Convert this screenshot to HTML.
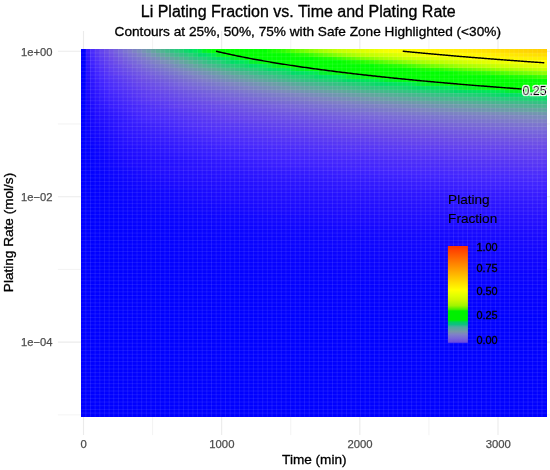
<!DOCTYPE html>
<html><head><meta charset="utf-8"><title>Li Plating Fraction</title><style>
html,body{margin:0;padding:0;background:#fff;}
svg{display:block;}
text{font-family:"Liberation Sans",Arial,Helvetica,sans-serif;}
.b{stroke:#000;stroke-width:0.32px;}
.g{stroke:#4d4d4d;stroke-width:0.25px;}
.c{stroke:#000;stroke-width:0.12px;}
</style></head><body>
<svg width="550" height="470" viewBox="0 0 550 470">
<rect width="550" height="470" fill="#fff"/>
<path d="M57.90 51.20H569.90M57.90 196.68H569.90M57.90 342.16H569.90M83.50 30.99V435.11M221.67 30.99V435.11M359.84 30.99V435.11M498.01 30.99V435.11" stroke="#ebebeb" stroke-width="1.1" fill="none"/>
<path d="M57.90 123.94H569.90M57.90 269.42H569.90M57.90 414.90H569.90M152.58 30.99V435.11M290.75 30.99V435.11M428.92 30.99V435.11M567.10 30.99V435.11" stroke="#ebebeb" stroke-width="0.6" fill="none"/>
<defs>
<linearGradient id="r0"><stop offset="0.0000" stop-color="#0000ff"/><stop offset="0.0100" stop-color="#0000ff"/><stop offset="0.0100" stop-color="#371bff"/><stop offset="0.0200" stop-color="#371bff"/><stop offset="0.0200" stop-color="#4b2cfb"/><stop offset="0.0300" stop-color="#4b2cfb"/><stop offset="0.0300" stop-color="#5939f3"/><stop offset="0.0400" stop-color="#5939f3"/><stop offset="0.0400" stop-color="#6343ed"/><stop offset="0.0500" stop-color="#6343ed"/><stop offset="0.0500" stop-color="#6b4de7"/><stop offset="0.0600" stop-color="#6b4de7"/><stop offset="0.0600" stop-color="#7156e2"/><stop offset="0.0700" stop-color="#7156e2"/><stop offset="0.0700" stop-color="#7560dc"/><stop offset="0.0800" stop-color="#7560dc"/><stop offset="0.0800" stop-color="#776ad7"/><stop offset="0.0900" stop-color="#776ad7"/><stop offset="0.0900" stop-color="#7b73d1"/><stop offset="0.1000" stop-color="#7b73d1"/><stop offset="0.1000" stop-color="#7e7aca"/><stop offset="0.1100" stop-color="#7e7aca"/><stop offset="0.1100" stop-color="#7c82c3"/><stop offset="0.1200" stop-color="#7c82c3"/><stop offset="0.1200" stop-color="#7a8bbb"/><stop offset="0.1300" stop-color="#7a8bbb"/><stop offset="0.1300" stop-color="#7693b3"/><stop offset="0.1400" stop-color="#7693b3"/><stop offset="0.1400" stop-color="#6e9aab"/><stop offset="0.1500" stop-color="#6e9aab"/><stop offset="0.1500" stop-color="#65a3a1"/><stop offset="0.1600" stop-color="#65a3a1"/><stop offset="0.1600" stop-color="#5bab98"/><stop offset="0.1700" stop-color="#5bab98"/><stop offset="0.1700" stop-color="#4eb391"/><stop offset="0.1800" stop-color="#4eb391"/><stop offset="0.1800" stop-color="#41ba8a"/><stop offset="0.1900" stop-color="#41ba8a"/><stop offset="0.1900" stop-color="#31c183"/><stop offset="0.2000" stop-color="#31c183"/><stop offset="0.2000" stop-color="#29c97c"/><stop offset="0.2100" stop-color="#29c97c"/><stop offset="0.2100" stop-color="#1fd072"/><stop offset="0.2200" stop-color="#1fd072"/><stop offset="0.2200" stop-color="#0dd76a"/><stop offset="0.2300" stop-color="#0dd76a"/><stop offset="0.2300" stop-color="#00dd64"/><stop offset="0.2400" stop-color="#00dd64"/><stop offset="0.2400" stop-color="#00e55d"/><stop offset="0.2500" stop-color="#00e55d"/><stop offset="0.2500" stop-color="#00eb48"/><stop offset="0.2600" stop-color="#00eb48"/><stop offset="0.2600" stop-color="#00f227"/><stop offset="0.2700" stop-color="#00f227"/><stop offset="0.2700" stop-color="#00f917"/><stop offset="0.2800" stop-color="#00f917"/><stop offset="0.2800" stop-color="#00ff07"/><stop offset="0.2900" stop-color="#00ff07"/><stop offset="0.2900" stop-color="#00ff00"/><stop offset="0.2950" stop-color="#00ff00"/><stop offset="0.3950" stop-color="#02ff00"/><stop offset="0.4000" stop-color="#02ff00"/><stop offset="0.4000" stop-color="#0fff00"/><stop offset="0.4100" stop-color="#0fff00"/><stop offset="0.4100" stop-color="#1aff00"/><stop offset="0.4200" stop-color="#1aff00"/><stop offset="0.4200" stop-color="#21ff00"/><stop offset="0.4300" stop-color="#21ff00"/><stop offset="0.4300" stop-color="#2eff00"/><stop offset="0.4400" stop-color="#2eff00"/><stop offset="0.4400" stop-color="#40ff00"/><stop offset="0.4500" stop-color="#40ff00"/><stop offset="0.4500" stop-color="#51ff00"/><stop offset="0.4600" stop-color="#51ff00"/><stop offset="0.4600" stop-color="#61ff00"/><stop offset="0.4700" stop-color="#61ff00"/><stop offset="0.4700" stop-color="#6fff00"/><stop offset="0.4800" stop-color="#6fff00"/><stop offset="0.4800" stop-color="#7eff00"/><stop offset="0.4900" stop-color="#7eff00"/><stop offset="0.4900" stop-color="#8bff00"/><stop offset="0.5000" stop-color="#8bff00"/><stop offset="0.5000" stop-color="#97ff00"/><stop offset="0.5100" stop-color="#97ff00"/><stop offset="0.5100" stop-color="#a4ff00"/><stop offset="0.5200" stop-color="#a4ff00"/><stop offset="0.5200" stop-color="#adff00"/><stop offset="0.5300" stop-color="#adff00"/><stop offset="0.5300" stop-color="#b6ff00"/><stop offset="0.5400" stop-color="#b6ff00"/><stop offset="0.5400" stop-color="#bfff00"/><stop offset="0.5500" stop-color="#bfff00"/><stop offset="0.5500" stop-color="#c6ff00"/><stop offset="0.5550" stop-color="#c6ff00"/><stop offset="0.6550" stop-color="#f4ff00"/><stop offset="0.7150" stop-color="#fffb00"/><stop offset="0.9950" stop-color="#ffce00"/><stop offset="1.0000" stop-color="#ffce00"/></linearGradient>
<linearGradient id="r1"><stop offset="0.0000" stop-color="#0000ff"/><stop offset="0.0100" stop-color="#0000ff"/><stop offset="0.0100" stop-color="#3219ff"/><stop offset="0.0200" stop-color="#3219ff"/><stop offset="0.0200" stop-color="#4729fd"/><stop offset="0.0300" stop-color="#4729fd"/><stop offset="0.0300" stop-color="#5535f5"/><stop offset="0.0400" stop-color="#5535f5"/><stop offset="0.0400" stop-color="#5f3ff0"/><stop offset="0.0500" stop-color="#5f3ff0"/><stop offset="0.0500" stop-color="#6747eb"/><stop offset="0.0600" stop-color="#6747eb"/><stop offset="0.0600" stop-color="#6e50e5"/><stop offset="0.0700" stop-color="#6e50e5"/><stop offset="0.0700" stop-color="#7159e0"/><stop offset="0.0800" stop-color="#7159e0"/><stop offset="0.0800" stop-color="#7562dc"/><stop offset="0.0900" stop-color="#7562dc"/><stop offset="0.0900" stop-color="#786ad7"/><stop offset="0.1000" stop-color="#786ad7"/><stop offset="0.1000" stop-color="#7b72d2"/><stop offset="0.1050" stop-color="#7b72d2"/><stop offset="0.1150" stop-color="#7d78cc"/><stop offset="0.1200" stop-color="#7d78cc"/><stop offset="0.1200" stop-color="#7d80c5"/><stop offset="0.1300" stop-color="#7d80c5"/><stop offset="0.1300" stop-color="#7a87bf"/><stop offset="0.1400" stop-color="#7a87bf"/><stop offset="0.1400" stop-color="#788fb8"/><stop offset="0.1500" stop-color="#788fb8"/><stop offset="0.1500" stop-color="#7396b1"/><stop offset="0.1600" stop-color="#7396b1"/><stop offset="0.1600" stop-color="#6b9ca9"/><stop offset="0.1700" stop-color="#6b9ca9"/><stop offset="0.1700" stop-color="#64a4a0"/><stop offset="0.1800" stop-color="#64a4a0"/><stop offset="0.1800" stop-color="#5aac97"/><stop offset="0.1900" stop-color="#5aac97"/><stop offset="0.1900" stop-color="#4eb292"/><stop offset="0.2000" stop-color="#4eb292"/><stop offset="0.2000" stop-color="#42b98b"/><stop offset="0.2100" stop-color="#42b98b"/><stop offset="0.2100" stop-color="#36bf85"/><stop offset="0.2200" stop-color="#36bf85"/><stop offset="0.2200" stop-color="#2dc57e"/><stop offset="0.2300" stop-color="#2dc57e"/><stop offset="0.2300" stop-color="#26cd77"/><stop offset="0.2400" stop-color="#26cd77"/><stop offset="0.2400" stop-color="#18d36f"/><stop offset="0.2500" stop-color="#18d36f"/><stop offset="0.2500" stop-color="#03d968"/><stop offset="0.2550" stop-color="#03d968"/><stop offset="0.2650" stop-color="#00de64"/><stop offset="0.2700" stop-color="#00de64"/><stop offset="0.2700" stop-color="#00e55c"/><stop offset="0.2800" stop-color="#00e55c"/><stop offset="0.2800" stop-color="#00ea4c"/><stop offset="0.2900" stop-color="#00ea4c"/><stop offset="0.2900" stop-color="#00f02a"/><stop offset="0.3000" stop-color="#00f02a"/><stop offset="0.3000" stop-color="#00f61c"/><stop offset="0.3100" stop-color="#00f61c"/><stop offset="0.3100" stop-color="#00fd0e"/><stop offset="0.3200" stop-color="#00fd0e"/><stop offset="0.3200" stop-color="#00ff00"/><stop offset="0.3250" stop-color="#00ff00"/><stop offset="0.4350" stop-color="#03ff00"/><stop offset="0.4450" stop-color="#05ff00"/><stop offset="0.4500" stop-color="#05ff00"/><stop offset="0.4500" stop-color="#0fff00"/><stop offset="0.4600" stop-color="#0fff00"/><stop offset="0.4600" stop-color="#1aff00"/><stop offset="0.4700" stop-color="#1aff00"/><stop offset="0.4700" stop-color="#21ff00"/><stop offset="0.4800" stop-color="#21ff00"/><stop offset="0.4800" stop-color="#29ff00"/><stop offset="0.4900" stop-color="#29ff00"/><stop offset="0.4900" stop-color="#39ff00"/><stop offset="0.5000" stop-color="#39ff00"/><stop offset="0.5000" stop-color="#48ff00"/><stop offset="0.5100" stop-color="#48ff00"/><stop offset="0.5100" stop-color="#57ff00"/><stop offset="0.5200" stop-color="#57ff00"/><stop offset="0.5200" stop-color="#65ff00"/><stop offset="0.5300" stop-color="#65ff00"/><stop offset="0.5300" stop-color="#72ff00"/><stop offset="0.5400" stop-color="#72ff00"/><stop offset="0.5400" stop-color="#7eff00"/><stop offset="0.5500" stop-color="#7eff00"/><stop offset="0.5500" stop-color="#8bff00"/><stop offset="0.5600" stop-color="#8bff00"/><stop offset="0.5600" stop-color="#96ff00"/><stop offset="0.5700" stop-color="#96ff00"/><stop offset="0.5700" stop-color="#a1ff00"/><stop offset="0.5800" stop-color="#a1ff00"/><stop offset="0.5800" stop-color="#a9ff00"/><stop offset="0.5900" stop-color="#a9ff00"/><stop offset="0.5900" stop-color="#b2ff00"/><stop offset="0.6000" stop-color="#b2ff00"/><stop offset="0.6000" stop-color="#b9ff00"/><stop offset="0.6100" stop-color="#b9ff00"/><stop offset="0.6100" stop-color="#c1ff00"/><stop offset="0.6150" stop-color="#c1ff00"/><stop offset="0.7450" stop-color="#f7ff00"/><stop offset="0.8050" stop-color="#fffa00"/><stop offset="0.9950" stop-color="#ffde00"/><stop offset="1.0000" stop-color="#ffde00"/></linearGradient>
<linearGradient id="r2"><stop offset="0.0000" stop-color="#0000ff"/><stop offset="0.0100" stop-color="#0000ff"/><stop offset="0.0100" stop-color="#2f17ff"/><stop offset="0.0200" stop-color="#2f17ff"/><stop offset="0.0200" stop-color="#4426fe"/><stop offset="0.0300" stop-color="#4426fe"/><stop offset="0.0300" stop-color="#5231f9"/><stop offset="0.0400" stop-color="#5231f9"/><stop offset="0.0400" stop-color="#5b3bf3"/><stop offset="0.0500" stop-color="#5b3bf3"/><stop offset="0.0500" stop-color="#6342ee"/><stop offset="0.0600" stop-color="#6342ee"/><stop offset="0.0600" stop-color="#6a4ae8"/><stop offset="0.0700" stop-color="#6a4ae8"/><stop offset="0.0700" stop-color="#6f52e4"/><stop offset="0.0800" stop-color="#6f52e4"/><stop offset="0.0800" stop-color="#725ae0"/><stop offset="0.0900" stop-color="#725ae0"/><stop offset="0.0900" stop-color="#7562dc"/><stop offset="0.1000" stop-color="#7562dc"/><stop offset="0.1000" stop-color="#776ad7"/><stop offset="0.1050" stop-color="#776ad7"/><stop offset="0.1350" stop-color="#7e7cc8"/><stop offset="0.1400" stop-color="#7e7cc8"/><stop offset="0.1400" stop-color="#7c83c2"/><stop offset="0.1450" stop-color="#7c83c2"/><stop offset="0.1550" stop-color="#7a89bc"/><stop offset="0.1600" stop-color="#7a89bc"/><stop offset="0.1600" stop-color="#7690b7"/><stop offset="0.1700" stop-color="#7690b7"/><stop offset="0.1700" stop-color="#7296b0"/><stop offset="0.1800" stop-color="#7296b0"/><stop offset="0.1800" stop-color="#6b9ca9"/><stop offset="0.1900" stop-color="#6b9ca9"/><stop offset="0.1900" stop-color="#64a3a1"/><stop offset="0.2000" stop-color="#64a3a1"/><stop offset="0.2000" stop-color="#5ba999"/><stop offset="0.2100" stop-color="#5ba999"/><stop offset="0.2100" stop-color="#53b094"/><stop offset="0.2200" stop-color="#53b094"/><stop offset="0.2200" stop-color="#48b68e"/><stop offset="0.2300" stop-color="#48b68e"/><stop offset="0.2300" stop-color="#3cbc88"/><stop offset="0.2400" stop-color="#3cbc88"/><stop offset="0.2400" stop-color="#31c183"/><stop offset="0.2500" stop-color="#31c183"/><stop offset="0.2500" stop-color="#2bc87d"/><stop offset="0.2600" stop-color="#2bc87d"/><stop offset="0.2600" stop-color="#23ce76"/><stop offset="0.2700" stop-color="#23ce76"/><stop offset="0.2700" stop-color="#18d36f"/><stop offset="0.2800" stop-color="#18d36f"/><stop offset="0.2800" stop-color="#07d967"/><stop offset="0.2900" stop-color="#07d967"/><stop offset="0.2900" stop-color="#00dd64"/><stop offset="0.3000" stop-color="#00dd64"/><stop offset="0.3000" stop-color="#00e45e"/><stop offset="0.3100" stop-color="#00e45e"/><stop offset="0.3100" stop-color="#00e854"/><stop offset="0.3200" stop-color="#00e854"/><stop offset="0.3200" stop-color="#00ed32"/><stop offset="0.3300" stop-color="#00ed32"/><stop offset="0.3300" stop-color="#00f325"/><stop offset="0.3400" stop-color="#00f325"/><stop offset="0.3400" stop-color="#00f918"/><stop offset="0.3500" stop-color="#00f918"/><stop offset="0.3500" stop-color="#00fe0c"/><stop offset="0.3600" stop-color="#00fe0c"/><stop offset="0.3600" stop-color="#00ff00"/><stop offset="0.3650" stop-color="#00ff00"/><stop offset="0.4950" stop-color="#01ff00"/><stop offset="0.5000" stop-color="#01ff00"/><stop offset="0.5000" stop-color="#0bff00"/><stop offset="0.5100" stop-color="#0bff00"/><stop offset="0.5100" stop-color="#15ff00"/><stop offset="0.5150" stop-color="#15ff00"/><stop offset="0.5350" stop-color="#21ff00"/><stop offset="0.5400" stop-color="#21ff00"/><stop offset="0.5400" stop-color="#2aff00"/><stop offset="0.5500" stop-color="#2aff00"/><stop offset="0.5500" stop-color="#39ff00"/><stop offset="0.5600" stop-color="#39ff00"/><stop offset="0.5600" stop-color="#47ff00"/><stop offset="0.5700" stop-color="#47ff00"/><stop offset="0.5700" stop-color="#53ff00"/><stop offset="0.5800" stop-color="#53ff00"/><stop offset="0.5800" stop-color="#5fff00"/><stop offset="0.5900" stop-color="#5fff00"/><stop offset="0.5900" stop-color="#6cff00"/><stop offset="0.6000" stop-color="#6cff00"/><stop offset="0.6000" stop-color="#78ff00"/><stop offset="0.6100" stop-color="#78ff00"/><stop offset="0.6100" stop-color="#81ff00"/><stop offset="0.6200" stop-color="#81ff00"/><stop offset="0.6200" stop-color="#8dff00"/><stop offset="0.6300" stop-color="#8dff00"/><stop offset="0.6300" stop-color="#97ff00"/><stop offset="0.6400" stop-color="#97ff00"/><stop offset="0.6400" stop-color="#a1ff00"/><stop offset="0.6500" stop-color="#a1ff00"/><stop offset="0.6500" stop-color="#a8ff00"/><stop offset="0.6600" stop-color="#a8ff00"/><stop offset="0.6600" stop-color="#afff00"/><stop offset="0.6700" stop-color="#afff00"/><stop offset="0.6700" stop-color="#b6ff00"/><stop offset="0.6800" stop-color="#b6ff00"/><stop offset="0.6800" stop-color="#bdff00"/><stop offset="0.6900" stop-color="#bdff00"/><stop offset="0.6900" stop-color="#c4ff00"/><stop offset="0.6950" stop-color="#c4ff00"/><stop offset="0.8450" stop-color="#faff00"/><stop offset="0.9950" stop-color="#ffed00"/><stop offset="1.0000" stop-color="#ffed00"/></linearGradient>
<linearGradient id="r3"><stop offset="0.0000" stop-color="#0000ff"/><stop offset="0.0100" stop-color="#0000ff"/><stop offset="0.0100" stop-color="#2c15ff"/><stop offset="0.0200" stop-color="#2c15ff"/><stop offset="0.0200" stop-color="#4023ff"/><stop offset="0.0300" stop-color="#4023ff"/><stop offset="0.0300" stop-color="#4d2efa"/><stop offset="0.0400" stop-color="#4d2efa"/><stop offset="0.0400" stop-color="#5737f4"/><stop offset="0.0500" stop-color="#5737f4"/><stop offset="0.0500" stop-color="#5f3ff1"/><stop offset="0.0550" stop-color="#5f3ff1"/><stop offset="0.0650" stop-color="#6545ec"/><stop offset="0.0700" stop-color="#6545ec"/><stop offset="0.0700" stop-color="#6b4ce7"/><stop offset="0.0800" stop-color="#6b4ce7"/><stop offset="0.0800" stop-color="#7053e3"/><stop offset="0.0900" stop-color="#7053e3"/><stop offset="0.0900" stop-color="#725ae0"/><stop offset="0.1000" stop-color="#725ae0"/><stop offset="0.1000" stop-color="#7461dd"/><stop offset="0.1050" stop-color="#7461dd"/><stop offset="0.1150" stop-color="#7767d9"/><stop offset="0.1200" stop-color="#7767d9"/><stop offset="0.1200" stop-color="#7a6ed5"/><stop offset="0.1250" stop-color="#7a6ed5"/><stop offset="0.1650" stop-color="#7c84c1"/><stop offset="0.1700" stop-color="#7c84c1"/><stop offset="0.1700" stop-color="#7a8bbb"/><stop offset="0.1750" stop-color="#7a8bbb"/><stop offset="0.1950" stop-color="#7396b1"/><stop offset="0.2000" stop-color="#7396b1"/><stop offset="0.2000" stop-color="#6c9baa"/><stop offset="0.2100" stop-color="#6c9baa"/><stop offset="0.2100" stop-color="#66a2a3"/><stop offset="0.2200" stop-color="#66a2a3"/><stop offset="0.2200" stop-color="#5ea79c"/><stop offset="0.2300" stop-color="#5ea79c"/><stop offset="0.2300" stop-color="#58ad95"/><stop offset="0.2400" stop-color="#58ad95"/><stop offset="0.2400" stop-color="#4eb292"/><stop offset="0.2500" stop-color="#4eb292"/><stop offset="0.2500" stop-color="#46b78d"/><stop offset="0.2600" stop-color="#46b78d"/><stop offset="0.2600" stop-color="#3bbd87"/><stop offset="0.2700" stop-color="#3bbd87"/><stop offset="0.2700" stop-color="#30c282"/><stop offset="0.2750" stop-color="#30c282"/><stop offset="0.2950" stop-color="#26cd78"/><stop offset="0.3000" stop-color="#26cd78"/><stop offset="0.3000" stop-color="#1bd272"/><stop offset="0.3100" stop-color="#1bd272"/><stop offset="0.3100" stop-color="#0fd76a"/><stop offset="0.3200" stop-color="#0fd76a"/><stop offset="0.3200" stop-color="#00db67"/><stop offset="0.3250" stop-color="#00db67"/><stop offset="0.3450" stop-color="#00e55d"/><stop offset="0.3500" stop-color="#00e55d"/><stop offset="0.3500" stop-color="#00e953"/><stop offset="0.3600" stop-color="#00e953"/><stop offset="0.3600" stop-color="#00ee31"/><stop offset="0.3700" stop-color="#00ee31"/><stop offset="0.3700" stop-color="#00f226"/><stop offset="0.3800" stop-color="#00f226"/><stop offset="0.3800" stop-color="#00f71a"/><stop offset="0.3900" stop-color="#00f71a"/><stop offset="0.3900" stop-color="#00fd0f"/><stop offset="0.4000" stop-color="#00fd0f"/><stop offset="0.4000" stop-color="#00ff04"/><stop offset="0.4050" stop-color="#00ff04"/><stop offset="0.5550" stop-color="#02ff00"/><stop offset="0.5600" stop-color="#02ff00"/><stop offset="0.5600" stop-color="#09ff00"/><stop offset="0.5700" stop-color="#09ff00"/><stop offset="0.5700" stop-color="#11ff00"/><stop offset="0.5800" stop-color="#11ff00"/><stop offset="0.5800" stop-color="#18ff00"/><stop offset="0.5900" stop-color="#18ff00"/><stop offset="0.5900" stop-color="#1fff00"/><stop offset="0.5950" stop-color="#1fff00"/><stop offset="0.6050" stop-color="#24ff00"/><stop offset="0.6100" stop-color="#24ff00"/><stop offset="0.6100" stop-color="#2fff00"/><stop offset="0.6200" stop-color="#2fff00"/><stop offset="0.6200" stop-color="#3aff00"/><stop offset="0.6300" stop-color="#3aff00"/><stop offset="0.6300" stop-color="#47ff00"/><stop offset="0.6400" stop-color="#47ff00"/><stop offset="0.6400" stop-color="#52ff00"/><stop offset="0.6500" stop-color="#52ff00"/><stop offset="0.6500" stop-color="#5eff00"/><stop offset="0.6600" stop-color="#5eff00"/><stop offset="0.6600" stop-color="#68ff00"/><stop offset="0.6700" stop-color="#68ff00"/><stop offset="0.6700" stop-color="#73ff00"/><stop offset="0.6800" stop-color="#73ff00"/><stop offset="0.6800" stop-color="#7eff00"/><stop offset="0.6900" stop-color="#7eff00"/><stop offset="0.6900" stop-color="#87ff00"/><stop offset="0.7000" stop-color="#87ff00"/><stop offset="0.7000" stop-color="#91ff00"/><stop offset="0.7100" stop-color="#91ff00"/><stop offset="0.7100" stop-color="#9aff00"/><stop offset="0.7200" stop-color="#9aff00"/><stop offset="0.7200" stop-color="#a2ff00"/><stop offset="0.7250" stop-color="#a2ff00"/><stop offset="0.7450" stop-color="#aeff00"/><stop offset="0.7500" stop-color="#aeff00"/><stop offset="0.7500" stop-color="#b5ff00"/><stop offset="0.7550" stop-color="#b5ff00"/><stop offset="0.8450" stop-color="#dcff00"/><stop offset="0.9750" stop-color="#ffff00"/><stop offset="0.9950" stop-color="#fffd00"/><stop offset="1.0000" stop-color="#fffd00"/></linearGradient>
<linearGradient id="r4"><stop offset="0.0000" stop-color="#0000ff"/><stop offset="0.0100" stop-color="#0000ff"/><stop offset="0.0100" stop-color="#2a14ff"/><stop offset="0.0200" stop-color="#2a14ff"/><stop offset="0.0200" stop-color="#3c21ff"/><stop offset="0.0300" stop-color="#3c21ff"/><stop offset="0.0300" stop-color="#492bfc"/><stop offset="0.0400" stop-color="#492bfc"/><stop offset="0.0400" stop-color="#5333f8"/><stop offset="0.0500" stop-color="#5333f8"/><stop offset="0.0500" stop-color="#5c3af2"/><stop offset="0.0600" stop-color="#5c3af2"/><stop offset="0.0600" stop-color="#6141ef"/><stop offset="0.0650" stop-color="#6141ef"/><stop offset="0.1050" stop-color="#7359e0"/><stop offset="0.1100" stop-color="#7359e0"/><stop offset="0.1100" stop-color="#7560dd"/><stop offset="0.1150" stop-color="#7560dd"/><stop offset="0.1250" stop-color="#7765db"/><stop offset="0.1300" stop-color="#7765db"/><stop offset="0.1300" stop-color="#786cd6"/><stop offset="0.1350" stop-color="#786cd6"/><stop offset="0.1850" stop-color="#7c84c1"/><stop offset="0.2350" stop-color="#699ea7"/><stop offset="0.2400" stop-color="#699ea7"/><stop offset="0.2400" stop-color="#64a4a0"/><stop offset="0.2500" stop-color="#64a4a0"/><stop offset="0.2500" stop-color="#5da89b"/><stop offset="0.2600" stop-color="#5da89b"/><stop offset="0.2600" stop-color="#55ae96"/><stop offset="0.2700" stop-color="#55ae96"/><stop offset="0.2700" stop-color="#4eb391"/><stop offset="0.2800" stop-color="#4eb391"/><stop offset="0.2800" stop-color="#47b78d"/><stop offset="0.2900" stop-color="#47b78d"/><stop offset="0.2900" stop-color="#3dbc88"/><stop offset="0.3000" stop-color="#3dbc88"/><stop offset="0.3000" stop-color="#34c084"/><stop offset="0.3100" stop-color="#34c084"/><stop offset="0.3100" stop-color="#2dc57f"/><stop offset="0.3150" stop-color="#2dc57f"/><stop offset="0.3250" stop-color="#29ca7a"/><stop offset="0.3300" stop-color="#29ca7a"/><stop offset="0.3300" stop-color="#21cf74"/><stop offset="0.3400" stop-color="#21cf74"/><stop offset="0.3400" stop-color="#18d36f"/><stop offset="0.3500" stop-color="#18d36f"/><stop offset="0.3500" stop-color="#0dd76a"/><stop offset="0.3600" stop-color="#0dd76a"/><stop offset="0.3600" stop-color="#00dc66"/><stop offset="0.3650" stop-color="#00dc66"/><stop offset="0.3850" stop-color="#00e45e"/><stop offset="0.3900" stop-color="#00e45e"/><stop offset="0.3900" stop-color="#00e856"/><stop offset="0.4000" stop-color="#00e856"/><stop offset="0.4000" stop-color="#00ec44"/><stop offset="0.4100" stop-color="#00ec44"/><stop offset="0.4100" stop-color="#00f02b"/><stop offset="0.4200" stop-color="#00f02b"/><stop offset="0.4200" stop-color="#00f421"/><stop offset="0.4300" stop-color="#00f421"/><stop offset="0.4300" stop-color="#00f917"/><stop offset="0.4400" stop-color="#00f917"/><stop offset="0.4400" stop-color="#00fe0d"/><stop offset="0.4500" stop-color="#00fe0d"/><stop offset="0.4500" stop-color="#00ff03"/><stop offset="0.4550" stop-color="#00ff03"/><stop offset="0.6250" stop-color="#02ff00"/><stop offset="0.6300" stop-color="#02ff00"/><stop offset="0.6300" stop-color="#0bff00"/><stop offset="0.6350" stop-color="#0bff00"/><stop offset="0.6450" stop-color="#11ff00"/><stop offset="0.6500" stop-color="#11ff00"/><stop offset="0.6500" stop-color="#18ff00"/><stop offset="0.6550" stop-color="#18ff00"/><stop offset="0.6850" stop-color="#29ff00"/><stop offset="0.6900" stop-color="#29ff00"/><stop offset="0.6900" stop-color="#33ff00"/><stop offset="0.7000" stop-color="#33ff00"/><stop offset="0.7000" stop-color="#40ff00"/><stop offset="0.7100" stop-color="#40ff00"/><stop offset="0.7100" stop-color="#49ff00"/><stop offset="0.7200" stop-color="#49ff00"/><stop offset="0.7200" stop-color="#54ff00"/><stop offset="0.7300" stop-color="#54ff00"/><stop offset="0.7300" stop-color="#5eff00"/><stop offset="0.7400" stop-color="#5eff00"/><stop offset="0.7400" stop-color="#68ff00"/><stop offset="0.7500" stop-color="#68ff00"/><stop offset="0.7500" stop-color="#71ff00"/><stop offset="0.7600" stop-color="#71ff00"/><stop offset="0.7600" stop-color="#79ff00"/><stop offset="0.7700" stop-color="#79ff00"/><stop offset="0.7700" stop-color="#81ff00"/><stop offset="0.7800" stop-color="#81ff00"/><stop offset="0.7800" stop-color="#8bff00"/><stop offset="0.7900" stop-color="#8bff00"/><stop offset="0.7900" stop-color="#93ff00"/><stop offset="0.8000" stop-color="#93ff00"/><stop offset="0.8000" stop-color="#9bff00"/><stop offset="0.8100" stop-color="#9bff00"/><stop offset="0.8100" stop-color="#a2ff00"/><stop offset="0.8150" stop-color="#a2ff00"/><stop offset="0.8950" stop-color="#cbff00"/><stop offset="0.9950" stop-color="#e9ff00"/><stop offset="1.0000" stop-color="#e9ff00"/></linearGradient>
<linearGradient id="r5"><stop offset="0.0000" stop-color="#0000ff"/><stop offset="0.0100" stop-color="#0000ff"/><stop offset="0.0100" stop-color="#2712ff"/><stop offset="0.0200" stop-color="#2712ff"/><stop offset="0.0200" stop-color="#381eff"/><stop offset="0.0300" stop-color="#381eff"/><stop offset="0.0300" stop-color="#4628fd"/><stop offset="0.0400" stop-color="#4628fd"/><stop offset="0.0400" stop-color="#502ff9"/><stop offset="0.0500" stop-color="#502ff9"/><stop offset="0.0500" stop-color="#5736f5"/><stop offset="0.0600" stop-color="#5736f5"/><stop offset="0.0600" stop-color="#5d3df2"/><stop offset="0.0650" stop-color="#5d3df2"/><stop offset="0.1250" stop-color="#745ede"/><stop offset="0.2050" stop-color="#7c84c2"/><stop offset="0.2650" stop-color="#699fa5"/><stop offset="0.2950" stop-color="#58ad96"/><stop offset="0.3000" stop-color="#58ad96"/><stop offset="0.3000" stop-color="#51b192"/><stop offset="0.3100" stop-color="#51b192"/><stop offset="0.3100" stop-color="#4ab58f"/><stop offset="0.3200" stop-color="#4ab58f"/><stop offset="0.3200" stop-color="#42b98b"/><stop offset="0.3300" stop-color="#42b98b"/><stop offset="0.3300" stop-color="#3abd87"/><stop offset="0.3400" stop-color="#3abd87"/><stop offset="0.3400" stop-color="#31c183"/><stop offset="0.3450" stop-color="#31c183"/><stop offset="0.3750" stop-color="#24ce76"/><stop offset="0.3800" stop-color="#24ce76"/><stop offset="0.3800" stop-color="#1cd270"/><stop offset="0.3900" stop-color="#1cd270"/><stop offset="0.3900" stop-color="#11d66b"/><stop offset="0.4000" stop-color="#11d66b"/><stop offset="0.4000" stop-color="#02da68"/><stop offset="0.4050" stop-color="#02da68"/><stop offset="0.4350" stop-color="#00e55c"/><stop offset="0.4400" stop-color="#00e55c"/><stop offset="0.4400" stop-color="#00e855"/><stop offset="0.4500" stop-color="#00e855"/><stop offset="0.4500" stop-color="#00ec3f"/><stop offset="0.4600" stop-color="#00ec3f"/><stop offset="0.4600" stop-color="#00f02c"/><stop offset="0.4700" stop-color="#00f02c"/><stop offset="0.4700" stop-color="#00f423"/><stop offset="0.4800" stop-color="#00f423"/><stop offset="0.4800" stop-color="#00f81a"/><stop offset="0.4900" stop-color="#00f81a"/><stop offset="0.4900" stop-color="#00fc11"/><stop offset="0.5000" stop-color="#00fc11"/><stop offset="0.5000" stop-color="#00ff08"/><stop offset="0.5100" stop-color="#00ff08"/><stop offset="0.5100" stop-color="#00ff00"/><stop offset="0.6950" stop-color="#00ff00"/><stop offset="0.7150" stop-color="#0bff00"/><stop offset="0.7200" stop-color="#0bff00"/><stop offset="0.7200" stop-color="#13ff00"/><stop offset="0.7250" stop-color="#13ff00"/><stop offset="0.7650" stop-color="#26ff00"/><stop offset="0.7700" stop-color="#26ff00"/><stop offset="0.7700" stop-color="#2fff00"/><stop offset="0.7800" stop-color="#2fff00"/><stop offset="0.7800" stop-color="#39ff00"/><stop offset="0.7900" stop-color="#39ff00"/><stop offset="0.7900" stop-color="#43ff00"/><stop offset="0.8000" stop-color="#43ff00"/><stop offset="0.8000" stop-color="#4bff00"/><stop offset="0.8100" stop-color="#4bff00"/><stop offset="0.8100" stop-color="#54ff00"/><stop offset="0.8200" stop-color="#54ff00"/><stop offset="0.8200" stop-color="#5eff00"/><stop offset="0.8300" stop-color="#5eff00"/><stop offset="0.8300" stop-color="#66ff00"/><stop offset="0.8400" stop-color="#66ff00"/><stop offset="0.8400" stop-color="#6eff00"/><stop offset="0.8500" stop-color="#6eff00"/><stop offset="0.8500" stop-color="#77ff00"/><stop offset="0.8600" stop-color="#77ff00"/><stop offset="0.8600" stop-color="#7eff00"/><stop offset="0.8700" stop-color="#7eff00"/><stop offset="0.8700" stop-color="#86ff00"/><stop offset="0.8800" stop-color="#86ff00"/><stop offset="0.8800" stop-color="#8dff00"/><stop offset="0.8900" stop-color="#8dff00"/><stop offset="0.8900" stop-color="#94ff00"/><stop offset="0.9000" stop-color="#94ff00"/><stop offset="0.9000" stop-color="#9cff00"/><stop offset="0.9050" stop-color="#9cff00"/><stop offset="0.9950" stop-color="#c8ff00"/><stop offset="1.0000" stop-color="#c8ff00"/></linearGradient>
<linearGradient id="r6"><stop offset="0.0000" stop-color="#0000ff"/><stop offset="0.0100" stop-color="#0000ff"/><stop offset="0.0100" stop-color="#2510ff"/><stop offset="0.0200" stop-color="#2510ff"/><stop offset="0.0200" stop-color="#351bff"/><stop offset="0.0300" stop-color="#351bff"/><stop offset="0.0300" stop-color="#4125ff"/><stop offset="0.0400" stop-color="#4125ff"/><stop offset="0.0400" stop-color="#4b2cfb"/><stop offset="0.0500" stop-color="#4b2cfb"/><stop offset="0.0500" stop-color="#5333f8"/><stop offset="0.0550" stop-color="#5333f8"/><stop offset="0.0650" stop-color="#5939f3"/><stop offset="0.0700" stop-color="#5939f3"/><stop offset="0.0700" stop-color="#603ef1"/><stop offset="0.0750" stop-color="#603ef1"/><stop offset="0.1450" stop-color="#7560dd"/><stop offset="0.2350" stop-color="#7b86c0"/><stop offset="0.2950" stop-color="#699ea7"/><stop offset="0.3350" stop-color="#55af95"/><stop offset="0.3400" stop-color="#55af95"/><stop offset="0.3400" stop-color="#4eb292"/><stop offset="0.3450" stop-color="#4eb292"/><stop offset="0.3550" stop-color="#48b68e"/><stop offset="0.3600" stop-color="#48b68e"/><stop offset="0.3600" stop-color="#41ba8b"/><stop offset="0.3700" stop-color="#41ba8b"/><stop offset="0.3700" stop-color="#3abd87"/><stop offset="0.3800" stop-color="#3abd87"/><stop offset="0.3800" stop-color="#32c183"/><stop offset="0.3850" stop-color="#32c183"/><stop offset="0.4250" stop-color="#21d074"/><stop offset="0.4300" stop-color="#21d074"/><stop offset="0.4300" stop-color="#18d36f"/><stop offset="0.4400" stop-color="#18d36f"/><stop offset="0.4400" stop-color="#0fd76b"/><stop offset="0.4500" stop-color="#0fd76b"/><stop offset="0.4500" stop-color="#02da68"/><stop offset="0.4550" stop-color="#02da68"/><stop offset="0.4850" stop-color="#00e45f"/><stop offset="0.4900" stop-color="#00e45f"/><stop offset="0.4900" stop-color="#00e858"/><stop offset="0.5000" stop-color="#00e858"/><stop offset="0.5000" stop-color="#00ea4f"/><stop offset="0.5100" stop-color="#00ea4f"/><stop offset="0.5100" stop-color="#00ee31"/><stop offset="0.5200" stop-color="#00ee31"/><stop offset="0.5200" stop-color="#00f129"/><stop offset="0.5300" stop-color="#00f129"/><stop offset="0.5300" stop-color="#00f421"/><stop offset="0.5400" stop-color="#00f421"/><stop offset="0.5400" stop-color="#00f919"/><stop offset="0.5500" stop-color="#00f919"/><stop offset="0.5500" stop-color="#00fc11"/><stop offset="0.5600" stop-color="#00fc11"/><stop offset="0.5600" stop-color="#00ff09"/><stop offset="0.5700" stop-color="#00ff09"/><stop offset="0.5700" stop-color="#00ff02"/><stop offset="0.5750" stop-color="#00ff02"/><stop offset="0.7850" stop-color="#01ff00"/><stop offset="0.8050" stop-color="#0cff00"/><stop offset="0.8100" stop-color="#0cff00"/><stop offset="0.8100" stop-color="#13ff00"/><stop offset="0.8150" stop-color="#13ff00"/><stop offset="0.8650" stop-color="#2bff00"/><stop offset="0.8700" stop-color="#2bff00"/><stop offset="0.8700" stop-color="#33ff00"/><stop offset="0.8800" stop-color="#33ff00"/><stop offset="0.8800" stop-color="#3cff00"/><stop offset="0.8900" stop-color="#3cff00"/><stop offset="0.8900" stop-color="#44ff00"/><stop offset="0.9000" stop-color="#44ff00"/><stop offset="0.9000" stop-color="#4dff00"/><stop offset="0.9100" stop-color="#4dff00"/><stop offset="0.9100" stop-color="#54ff00"/><stop offset="0.9200" stop-color="#54ff00"/><stop offset="0.9200" stop-color="#5eff00"/><stop offset="0.9300" stop-color="#5eff00"/><stop offset="0.9300" stop-color="#65ff00"/><stop offset="0.9400" stop-color="#65ff00"/><stop offset="0.9400" stop-color="#6cff00"/><stop offset="0.9500" stop-color="#6cff00"/><stop offset="0.9500" stop-color="#73ff00"/><stop offset="0.9600" stop-color="#73ff00"/><stop offset="0.9600" stop-color="#7aff00"/><stop offset="0.9700" stop-color="#7aff00"/><stop offset="0.9700" stop-color="#81ff00"/><stop offset="0.9750" stop-color="#81ff00"/><stop offset="0.9850" stop-color="#87ff00"/><stop offset="0.9900" stop-color="#87ff00"/><stop offset="0.9900" stop-color="#8eff00"/><stop offset="1.0000" stop-color="#8eff00"/></linearGradient>
<linearGradient id="r7"><stop offset="0.0000" stop-color="#0000ff"/><stop offset="0.0100" stop-color="#0000ff"/><stop offset="0.0100" stop-color="#230fff"/><stop offset="0.0200" stop-color="#230fff"/><stop offset="0.0200" stop-color="#3219ff"/><stop offset="0.0300" stop-color="#3219ff"/><stop offset="0.0300" stop-color="#3e22ff"/><stop offset="0.0400" stop-color="#3e22ff"/><stop offset="0.0400" stop-color="#4729fd"/><stop offset="0.0500" stop-color="#4729fd"/><stop offset="0.0500" stop-color="#4f2ffa"/><stop offset="0.0550" stop-color="#4f2ffa"/><stop offset="0.1350" stop-color="#7054e4"/><stop offset="0.2550" stop-color="#7c83c2"/><stop offset="0.3350" stop-color="#689fa5"/><stop offset="0.4150" stop-color="#3fbb89"/><stop offset="0.4200" stop-color="#3fbb89"/><stop offset="0.4200" stop-color="#37bf86"/><stop offset="0.4300" stop-color="#37bf86"/><stop offset="0.4300" stop-color="#30c282"/><stop offset="0.4350" stop-color="#30c282"/><stop offset="0.4850" stop-color="#1cd270"/><stop offset="0.4900" stop-color="#1cd270"/><stop offset="0.4900" stop-color="#15d56c"/><stop offset="0.5000" stop-color="#15d56c"/><stop offset="0.5000" stop-color="#07d969"/><stop offset="0.5100" stop-color="#07d969"/><stop offset="0.5100" stop-color="#00dc66"/><stop offset="0.5150" stop-color="#00dc66"/><stop offset="0.5450" stop-color="#00e55e"/><stop offset="0.5500" stop-color="#00e55e"/><stop offset="0.5500" stop-color="#00e857"/><stop offset="0.5600" stop-color="#00e857"/><stop offset="0.5600" stop-color="#00ea4e"/><stop offset="0.5700" stop-color="#00ea4e"/><stop offset="0.5700" stop-color="#00ed36"/><stop offset="0.5800" stop-color="#00ed36"/><stop offset="0.5800" stop-color="#00f02c"/><stop offset="0.5900" stop-color="#00f02c"/><stop offset="0.5900" stop-color="#00f325"/><stop offset="0.6000" stop-color="#00f325"/><stop offset="0.6000" stop-color="#00f61e"/><stop offset="0.6100" stop-color="#00f61e"/><stop offset="0.6100" stop-color="#00fa17"/><stop offset="0.6200" stop-color="#00fa17"/><stop offset="0.6200" stop-color="#00fc10"/><stop offset="0.6300" stop-color="#00fc10"/><stop offset="0.6300" stop-color="#00ff09"/><stop offset="0.6400" stop-color="#00ff09"/><stop offset="0.6400" stop-color="#00ff02"/><stop offset="0.6450" stop-color="#00ff02"/><stop offset="0.8850" stop-color="#02ff00"/><stop offset="0.8900" stop-color="#02ff00"/><stop offset="0.8900" stop-color="#09ff00"/><stop offset="0.8950" stop-color="#09ff00"/><stop offset="0.9050" stop-color="#0cff00"/><stop offset="0.9100" stop-color="#0cff00"/><stop offset="0.9100" stop-color="#13ff00"/><stop offset="0.9150" stop-color="#13ff00"/><stop offset="0.9650" stop-color="#26ff00"/><stop offset="0.9700" stop-color="#26ff00"/><stop offset="0.9700" stop-color="#2eff00"/><stop offset="0.9800" stop-color="#2eff00"/><stop offset="0.9800" stop-color="#36ff00"/><stop offset="0.9900" stop-color="#36ff00"/><stop offset="0.9900" stop-color="#3dff00"/><stop offset="1.0000" stop-color="#3dff00"/></linearGradient>
<linearGradient id="r8"><stop offset="0.0000" stop-color="#0000ff"/><stop offset="0.0100" stop-color="#0000ff"/><stop offset="0.0100" stop-color="#200dff"/><stop offset="0.0200" stop-color="#200dff"/><stop offset="0.0200" stop-color="#2f17ff"/><stop offset="0.0300" stop-color="#2f17ff"/><stop offset="0.0300" stop-color="#3b1fff"/><stop offset="0.0400" stop-color="#3b1fff"/><stop offset="0.0400" stop-color="#4426fe"/><stop offset="0.0500" stop-color="#4426fe"/><stop offset="0.0500" stop-color="#4b2cfb"/><stop offset="0.0550" stop-color="#4b2cfb"/><stop offset="0.1250" stop-color="#6a4ae8"/><stop offset="0.2650" stop-color="#7e7cc9"/><stop offset="0.3650" stop-color="#6c9ca9"/><stop offset="0.4650" stop-color="#3fbb89"/><stop offset="0.4700" stop-color="#3fbb89"/><stop offset="0.4700" stop-color="#37be86"/><stop offset="0.4750" stop-color="#37be86"/><stop offset="0.5450" stop-color="#1bd370"/><stop offset="0.5500" stop-color="#1bd370"/><stop offset="0.5500" stop-color="#14d56d"/><stop offset="0.5600" stop-color="#14d56d"/><stop offset="0.5600" stop-color="#08d868"/><stop offset="0.5700" stop-color="#08d868"/><stop offset="0.5700" stop-color="#00db67"/><stop offset="0.5750" stop-color="#00db67"/><stop offset="0.6250" stop-color="#00e756"/><stop offset="0.6300" stop-color="#00e756"/><stop offset="0.6300" stop-color="#00ea4e"/><stop offset="0.6400" stop-color="#00ea4e"/><stop offset="0.6400" stop-color="#00ed3e"/><stop offset="0.6500" stop-color="#00ed3e"/><stop offset="0.6500" stop-color="#00ef2d"/><stop offset="0.6550" stop-color="#00ef2d"/><stop offset="0.6650" stop-color="#00f227"/><stop offset="0.6700" stop-color="#00f227"/><stop offset="0.6700" stop-color="#00f520"/><stop offset="0.6750" stop-color="#00f520"/><stop offset="0.7050" stop-color="#00fd0e"/><stop offset="0.7100" stop-color="#00fd0e"/><stop offset="0.7100" stop-color="#00ff07"/><stop offset="0.7150" stop-color="#00ff07"/><stop offset="0.7450" stop-color="#00ff00"/><stop offset="0.9950" stop-color="#02ff00"/><stop offset="1.0000" stop-color="#02ff00"/></linearGradient>
<linearGradient id="r9"><stop offset="0.0000" stop-color="#0000ff"/><stop offset="0.0100" stop-color="#0000ff"/><stop offset="0.0100" stop-color="#1e0cff"/><stop offset="0.0200" stop-color="#1e0cff"/><stop offset="0.0200" stop-color="#2c15ff"/><stop offset="0.0300" stop-color="#2c15ff"/><stop offset="0.0300" stop-color="#381cff"/><stop offset="0.0400" stop-color="#381cff"/><stop offset="0.0400" stop-color="#4023ff"/><stop offset="0.0500" stop-color="#4023ff"/><stop offset="0.0500" stop-color="#4729fd"/><stop offset="0.0550" stop-color="#4729fd"/><stop offset="0.1250" stop-color="#6545ec"/><stop offset="0.2150" stop-color="#7664db"/><stop offset="0.3250" stop-color="#7c84c1"/><stop offset="0.4150" stop-color="#6b9da7"/><stop offset="0.5250" stop-color="#3cbc88"/><stop offset="0.6150" stop-color="#18d36f"/><stop offset="0.6200" stop-color="#18d36f"/><stop offset="0.6200" stop-color="#11d66b"/><stop offset="0.6300" stop-color="#11d66b"/><stop offset="0.6300" stop-color="#08d868"/><stop offset="0.6400" stop-color="#08d868"/><stop offset="0.6400" stop-color="#00db67"/><stop offset="0.6450" stop-color="#00db67"/><stop offset="0.7050" stop-color="#00e855"/><stop offset="0.7100" stop-color="#00e855"/><stop offset="0.7100" stop-color="#00eb4b"/><stop offset="0.7200" stop-color="#00eb4b"/><stop offset="0.7200" stop-color="#00ed37"/><stop offset="0.7300" stop-color="#00ed37"/><stop offset="0.7300" stop-color="#00ef2d"/><stop offset="0.7350" stop-color="#00ef2d"/><stop offset="0.8150" stop-color="#00ff00"/><stop offset="1.0000" stop-color="#00ff00"/></linearGradient>
<linearGradient id="r10"><stop offset="0.0000" stop-color="#0000ff"/><stop offset="0.0100" stop-color="#0000ff"/><stop offset="0.0100" stop-color="#1c0bff"/><stop offset="0.0200" stop-color="#1c0bff"/><stop offset="0.0200" stop-color="#2a13ff"/><stop offset="0.0300" stop-color="#2a13ff"/><stop offset="0.0300" stop-color="#341aff"/><stop offset="0.0400" stop-color="#341aff"/><stop offset="0.0400" stop-color="#3c21ff"/><stop offset="0.0500" stop-color="#3c21ff"/><stop offset="0.0500" stop-color="#4426fe"/><stop offset="0.0550" stop-color="#4426fe"/><stop offset="0.1350" stop-color="#6443ed"/><stop offset="0.2350" stop-color="#7562dc"/><stop offset="0.3550" stop-color="#7c82c3"/><stop offset="0.4550" stop-color="#6d9baa"/><stop offset="0.5650" stop-color="#47b78e"/><stop offset="0.6250" stop-color="#2ec480"/><stop offset="0.6850" stop-color="#1cd270"/><stop offset="0.6900" stop-color="#1cd270"/><stop offset="0.6900" stop-color="#15d46f"/><stop offset="0.6950" stop-color="#15d46f"/><stop offset="0.7050" stop-color="#0fd76a"/><stop offset="0.7100" stop-color="#0fd76a"/><stop offset="0.7100" stop-color="#07d967"/><stop offset="0.7200" stop-color="#07d967"/><stop offset="0.7200" stop-color="#00db67"/><stop offset="0.7250" stop-color="#00db67"/><stop offset="0.7950" stop-color="#00e953"/><stop offset="0.8000" stop-color="#00e953"/><stop offset="0.8000" stop-color="#00eb48"/><stop offset="0.8100" stop-color="#00eb48"/><stop offset="0.8100" stop-color="#00ed36"/><stop offset="0.8200" stop-color="#00ed36"/><stop offset="0.8200" stop-color="#00ef2d"/><stop offset="0.8250" stop-color="#00ef2d"/><stop offset="0.9150" stop-color="#00ff00"/><stop offset="1.0000" stop-color="#00ff00"/></linearGradient>
<linearGradient id="r11"><stop offset="0.0000" stop-color="#0000ff"/><stop offset="0.0100" stop-color="#0000ff"/><stop offset="0.0100" stop-color="#1909ff"/><stop offset="0.0200" stop-color="#1909ff"/><stop offset="0.0200" stop-color="#2712ff"/><stop offset="0.0300" stop-color="#2712ff"/><stop offset="0.0300" stop-color="#3018ff"/><stop offset="0.0400" stop-color="#3018ff"/><stop offset="0.0400" stop-color="#391dff"/><stop offset="0.0450" stop-color="#391dff"/><stop offset="0.0550" stop-color="#3f23ff"/><stop offset="0.0600" stop-color="#3f23ff"/><stop offset="0.0600" stop-color="#4627fd"/><stop offset="0.0650" stop-color="#4627fd"/><stop offset="0.1650" stop-color="#6747eb"/><stop offset="0.3350" stop-color="#7b73d0"/><stop offset="0.4350" stop-color="#7a8bbb"/><stop offset="0.5550" stop-color="#62a59f"/><stop offset="0.7150" stop-color="#2bc87d"/><stop offset="0.7850" stop-color="#15d56d"/><stop offset="0.7900" stop-color="#15d56d"/><stop offset="0.7900" stop-color="#0dd76a"/><stop offset="0.8000" stop-color="#0dd76a"/><stop offset="0.8000" stop-color="#03d968"/><stop offset="0.8050" stop-color="#03d968"/><stop offset="0.8850" stop-color="#00e856"/><stop offset="0.8950" stop-color="#00e950"/><stop offset="0.9000" stop-color="#00e950"/><stop offset="0.9000" stop-color="#00eb48"/><stop offset="0.9100" stop-color="#00eb48"/><stop offset="0.9100" stop-color="#00ed36"/><stop offset="0.9200" stop-color="#00ed36"/><stop offset="0.9200" stop-color="#00ef2e"/><stop offset="0.9250" stop-color="#00ef2e"/><stop offset="0.9950" stop-color="#00fd0f"/><stop offset="1.0000" stop-color="#00fd0f"/></linearGradient>
<linearGradient id="r12"><stop offset="0.0000" stop-color="#0000ff"/><stop offset="0.0100" stop-color="#0000ff"/><stop offset="0.0100" stop-color="#1708ff"/><stop offset="0.0200" stop-color="#1708ff"/><stop offset="0.0200" stop-color="#2510ff"/><stop offset="0.0300" stop-color="#2510ff"/><stop offset="0.0300" stop-color="#2d16ff"/><stop offset="0.0400" stop-color="#2d16ff"/><stop offset="0.0400" stop-color="#351bff"/><stop offset="0.0500" stop-color="#351bff"/><stop offset="0.0500" stop-color="#3c20ff"/><stop offset="0.0550" stop-color="#3c20ff"/><stop offset="0.1350" stop-color="#5d3bf3"/><stop offset="0.2850" stop-color="#7560dd"/><stop offset="0.4650" stop-color="#7c85c0"/><stop offset="0.6150" stop-color="#64a4a0"/><stop offset="0.8050" stop-color="#2bc87d"/><stop offset="0.8850" stop-color="#11d66b"/><stop offset="0.8950" stop-color="#0bd869"/><stop offset="0.9000" stop-color="#0bd869"/><stop offset="0.9000" stop-color="#03d968"/><stop offset="0.9050" stop-color="#03d968"/><stop offset="0.9850" stop-color="#00e759"/><stop offset="0.9950" stop-color="#00e854"/><stop offset="1.0000" stop-color="#00e854"/></linearGradient>
<linearGradient id="r13"><stop offset="0.0000" stop-color="#0000ff"/><stop offset="0.0100" stop-color="#0000ff"/><stop offset="0.0100" stop-color="#1607ff"/><stop offset="0.0200" stop-color="#1607ff"/><stop offset="0.0200" stop-color="#230fff"/><stop offset="0.0300" stop-color="#230fff"/><stop offset="0.0300" stop-color="#2b14ff"/><stop offset="0.0350" stop-color="#2b14ff"/><stop offset="0.0450" stop-color="#3119ff"/><stop offset="0.0500" stop-color="#3119ff"/><stop offset="0.0500" stop-color="#391dff"/><stop offset="0.0550" stop-color="#391dff"/><stop offset="0.1550" stop-color="#5e3cf2"/><stop offset="0.3350" stop-color="#7663db"/><stop offset="0.4950" stop-color="#7d80c4"/><stop offset="0.6350" stop-color="#6f9aab"/><stop offset="0.8150" stop-color="#42b98b"/><stop offset="0.8950" stop-color="#2cc67f"/><stop offset="0.9950" stop-color="#11d66a"/><stop offset="1.0000" stop-color="#11d66a"/></linearGradient>
<linearGradient id="r14"><stop offset="0.0000" stop-color="#0000ff"/><stop offset="0.0100" stop-color="#0000ff"/><stop offset="0.0100" stop-color="#1406ff"/><stop offset="0.0200" stop-color="#1406ff"/><stop offset="0.0200" stop-color="#200dff"/><stop offset="0.0300" stop-color="#200dff"/><stop offset="0.0300" stop-color="#2813ff"/><stop offset="0.0400" stop-color="#2813ff"/><stop offset="0.0400" stop-color="#2f17ff"/><stop offset="0.0450" stop-color="#2f17ff"/><stop offset="0.1250" stop-color="#5131f9"/><stop offset="0.2950" stop-color="#7053e3"/><stop offset="0.5550" stop-color="#7d80c4"/><stop offset="0.7350" stop-color="#6b9da7"/><stop offset="0.9250" stop-color="#40bb8a"/><stop offset="0.9950" stop-color="#2fc47f"/><stop offset="1.0000" stop-color="#2fc47f"/></linearGradient>
<linearGradient id="r15"><stop offset="0.0000" stop-color="#0000ff"/><stop offset="0.0100" stop-color="#0000ff"/><stop offset="0.0100" stop-color="#1305ff"/><stop offset="0.0200" stop-color="#1305ff"/><stop offset="0.0200" stop-color="#1e0cff"/><stop offset="0.0300" stop-color="#1e0cff"/><stop offset="0.0300" stop-color="#2611ff"/><stop offset="0.0350" stop-color="#2611ff"/><stop offset="0.0550" stop-color="#3119ff"/><stop offset="0.0600" stop-color="#3119ff"/><stop offset="0.0600" stop-color="#381cff"/><stop offset="0.0650" stop-color="#381cff"/><stop offset="0.2050" stop-color="#603ef1"/><stop offset="0.4350" stop-color="#7765db"/><stop offset="0.6550" stop-color="#7c85c0"/><stop offset="0.8450" stop-color="#68a1a4"/><stop offset="0.9950" stop-color="#4bb58e"/><stop offset="1.0000" stop-color="#4bb58e"/></linearGradient>
<linearGradient id="r16"><stop offset="0.0000" stop-color="#0000ff"/><stop offset="0.0100" stop-color="#0000ff"/><stop offset="0.0100" stop-color="#1106ff"/><stop offset="0.0200" stop-color="#1106ff"/><stop offset="0.0200" stop-color="#1c0bff"/><stop offset="0.0300" stop-color="#1c0bff"/><stop offset="0.0300" stop-color="#240fff"/><stop offset="0.0350" stop-color="#240fff"/><stop offset="0.1150" stop-color="#4628fd"/><stop offset="0.2650" stop-color="#6443ed"/><stop offset="0.4750" stop-color="#7663db"/><stop offset="0.7350" stop-color="#7c85c0"/><stop offset="0.9750" stop-color="#64a4a0"/><stop offset="0.9950" stop-color="#61a69d"/><stop offset="1.0000" stop-color="#61a69d"/></linearGradient>
<linearGradient id="r17"><stop offset="0.0000" stop-color="#0000ff"/><stop offset="0.0100" stop-color="#0000ff"/><stop offset="0.0100" stop-color="#1005ff"/><stop offset="0.0200" stop-color="#1005ff"/><stop offset="0.0200" stop-color="#1909ff"/><stop offset="0.0300" stop-color="#1909ff"/><stop offset="0.0300" stop-color="#220eff"/><stop offset="0.0350" stop-color="#220eff"/><stop offset="0.1350" stop-color="#4829fc"/><stop offset="0.3150" stop-color="#6646eb"/><stop offset="0.6350" stop-color="#7b70d3"/><stop offset="0.8850" stop-color="#7a8cba"/><stop offset="0.9950" stop-color="#7098ad"/><stop offset="1.0000" stop-color="#7098ad"/></linearGradient>
<linearGradient id="r18"><stop offset="0.0000" stop-color="#0000ff"/><stop offset="0.0100" stop-color="#0000ff"/><stop offset="0.0100" stop-color="#0f05ff"/><stop offset="0.0200" stop-color="#0f05ff"/><stop offset="0.0200" stop-color="#1708ff"/><stop offset="0.0300" stop-color="#1708ff"/><stop offset="0.0300" stop-color="#1f0cff"/><stop offset="0.0350" stop-color="#1f0cff"/><stop offset="0.1350" stop-color="#4426fe"/><stop offset="0.3250" stop-color="#6342ee"/><stop offset="0.6150" stop-color="#7765db"/><stop offset="0.9250" stop-color="#7c85c0"/><stop offset="0.9950" stop-color="#798dba"/><stop offset="1.0000" stop-color="#798dba"/></linearGradient>
<linearGradient id="r19"><stop offset="0.0000" stop-color="#0000ff"/><stop offset="0.0100" stop-color="#0000ff"/><stop offset="0.0100" stop-color="#0c04ff"/><stop offset="0.0200" stop-color="#0c04ff"/><stop offset="0.0200" stop-color="#1607ff"/><stop offset="0.0300" stop-color="#1607ff"/><stop offset="0.0300" stop-color="#1d0bff"/><stop offset="0.0350" stop-color="#1d0bff"/><stop offset="0.1350" stop-color="#4024ff"/><stop offset="0.3250" stop-color="#603ef1"/><stop offset="0.6550" stop-color="#7562dc"/><stop offset="0.9950" stop-color="#7d81c4"/><stop offset="1.0000" stop-color="#7d81c4"/></linearGradient>
<linearGradient id="r20"><stop offset="0.0000" stop-color="#0000ff"/><stop offset="0.0100" stop-color="#0000ff"/><stop offset="0.0100" stop-color="#0b04ff"/><stop offset="0.0200" stop-color="#0b04ff"/><stop offset="0.0200" stop-color="#1406ff"/><stop offset="0.0250" stop-color="#1406ff"/><stop offset="0.0850" stop-color="#2f17ff"/><stop offset="0.2450" stop-color="#5131f9"/><stop offset="0.5850" stop-color="#7053e3"/><stop offset="0.9950" stop-color="#7c77cc"/><stop offset="1.0000" stop-color="#7c77cc"/></linearGradient>
<linearGradient id="r21"><stop offset="0.0000" stop-color="#0000ff"/><stop offset="0.0100" stop-color="#0000ff"/><stop offset="0.0100" stop-color="#0a03ff"/><stop offset="0.0200" stop-color="#0a03ff"/><stop offset="0.0200" stop-color="#1305ff"/><stop offset="0.0250" stop-color="#1305ff"/><stop offset="0.0950" stop-color="#2f17ff"/><stop offset="0.2750" stop-color="#5131f9"/><stop offset="0.5850" stop-color="#6c4de6"/><stop offset="0.9950" stop-color="#7b6fd4"/><stop offset="1.0000" stop-color="#7b6fd4"/></linearGradient>
<linearGradient id="r22"><stop offset="0.0000" stop-color="#0000ff"/><stop offset="0.0100" stop-color="#0000ff"/><stop offset="0.0100" stop-color="#0903ff"/><stop offset="0.0200" stop-color="#0903ff"/><stop offset="0.0200" stop-color="#1106ff"/><stop offset="0.0250" stop-color="#1106ff"/><stop offset="0.0950" stop-color="#2c15ff"/><stop offset="0.2650" stop-color="#4b2cfb"/><stop offset="0.5850" stop-color="#6848ea"/><stop offset="0.9950" stop-color="#7666da"/><stop offset="1.0000" stop-color="#7666da"/></linearGradient>
<linearGradient id="r23"><stop offset="0.0000" stop-color="#0000ff"/><stop offset="0.0100" stop-color="#0000ff"/><stop offset="0.0100" stop-color="#0803ff"/><stop offset="0.0200" stop-color="#0803ff"/><stop offset="0.0200" stop-color="#1005ff"/><stop offset="0.0250" stop-color="#1005ff"/><stop offset="0.1050" stop-color="#2c15ff"/><stop offset="0.3250" stop-color="#4f2ffa"/><stop offset="0.7350" stop-color="#6c4de6"/><stop offset="0.9950" stop-color="#745fdd"/><stop offset="1.0000" stop-color="#745fdd"/></linearGradient>
<linearGradient id="r24"><stop offset="0.0000" stop-color="#0000ff"/><stop offset="0.0100" stop-color="#0000ff"/><stop offset="0.0100" stop-color="#0702ff"/><stop offset="0.0200" stop-color="#0702ff"/><stop offset="0.0200" stop-color="#0e04ff"/><stop offset="0.0250" stop-color="#0e04ff"/><stop offset="0.1050" stop-color="#2913ff"/><stop offset="0.2950" stop-color="#4729fd"/><stop offset="0.6650" stop-color="#6443ed"/><stop offset="0.9950" stop-color="#7157e1"/><stop offset="1.0000" stop-color="#7157e1"/></linearGradient>
<linearGradient id="r25"><stop offset="0.0000" stop-color="#0000ff"/><stop offset="0.0100" stop-color="#0000ff"/><stop offset="0.0100" stop-color="#0702ff"/><stop offset="0.0150" stop-color="#0702ff"/><stop offset="0.0950" stop-color="#2510ff"/><stop offset="0.3350" stop-color="#4829fc"/><stop offset="0.7650" stop-color="#6544ec"/><stop offset="0.9950" stop-color="#6e51e5"/><stop offset="1.0000" stop-color="#6e51e5"/></linearGradient>
<linearGradient id="r26"><stop offset="0.0000" stop-color="#0000ff"/><stop offset="0.0050" stop-color="#0000ff"/><stop offset="0.0850" stop-color="#200dff"/><stop offset="0.3450" stop-color="#4527fd"/><stop offset="0.7950" stop-color="#6241ef"/><stop offset="0.9950" stop-color="#6a4be8"/><stop offset="1.0000" stop-color="#6a4be8"/></linearGradient>
<linearGradient id="r27"><stop offset="0.0000" stop-color="#0000ff"/><stop offset="0.0050" stop-color="#0000ff"/><stop offset="0.0650" stop-color="#1809ff"/><stop offset="0.2050" stop-color="#3119ff"/><stop offset="0.5750" stop-color="#5332f8"/><stop offset="0.9950" stop-color="#6646ec"/><stop offset="1.0000" stop-color="#6646ec"/></linearGradient>
<linearGradient id="r28"><stop offset="0.0000" stop-color="#0000ff"/><stop offset="0.0050" stop-color="#0000ff"/><stop offset="0.0950" stop-color="#1e0cff"/><stop offset="0.3450" stop-color="#3e22ff"/><stop offset="0.8850" stop-color="#5f3df2"/><stop offset="0.9950" stop-color="#6241ef"/><stop offset="1.0000" stop-color="#6241ef"/></linearGradient>
<linearGradient id="r29"><stop offset="0.0000" stop-color="#0000ff"/><stop offset="0.0050" stop-color="#0000ff"/><stop offset="0.0950" stop-color="#1b0aff"/><stop offset="0.3750" stop-color="#3d21ff"/><stop offset="0.9950" stop-color="#5f3df2"/><stop offset="1.0000" stop-color="#5f3df2"/></linearGradient>
<linearGradient id="r30"><stop offset="0.0000" stop-color="#0000ff"/><stop offset="0.0050" stop-color="#0000ff"/><stop offset="0.1150" stop-color="#1d0bff"/><stop offset="0.4650" stop-color="#4023ff"/><stop offset="0.9950" stop-color="#5a39f3"/><stop offset="1.0000" stop-color="#5a39f3"/></linearGradient>
<linearGradient id="r31"><stop offset="0.0000" stop-color="#0000ff"/><stop offset="0.0050" stop-color="#0000ff"/><stop offset="0.1050" stop-color="#1909ff"/><stop offset="0.4550" stop-color="#3c1fff"/><stop offset="0.9950" stop-color="#5635f5"/><stop offset="1.0000" stop-color="#5635f5"/></linearGradient>
<linearGradient id="r32"><stop offset="0.0000" stop-color="#0000ff"/><stop offset="0.0050" stop-color="#0000ff"/><stop offset="0.1750" stop-color="#220eff"/><stop offset="0.6150" stop-color="#4124ff"/><stop offset="0.9950" stop-color="#5231f8"/><stop offset="1.0000" stop-color="#5231f8"/></linearGradient>
<linearGradient id="r33"><stop offset="0.0000" stop-color="#0000ff"/><stop offset="0.0050" stop-color="#0000ff"/><stop offset="0.1650" stop-color="#1e0cff"/><stop offset="0.6850" stop-color="#4124ff"/><stop offset="0.9950" stop-color="#4d2efa"/><stop offset="1.0000" stop-color="#4d2efa"/></linearGradient>
<linearGradient id="r34"><stop offset="0.0000" stop-color="#0000ff"/><stop offset="0.0050" stop-color="#0000ff"/><stop offset="0.1850" stop-color="#1e0cff"/><stop offset="0.7650" stop-color="#4124ff"/><stop offset="0.9950" stop-color="#492bfc"/><stop offset="1.0000" stop-color="#492bfc"/></linearGradient>
<linearGradient id="r35"><stop offset="0.0000" stop-color="#0000ff"/><stop offset="0.0050" stop-color="#0000ff"/><stop offset="0.1950" stop-color="#1d0bff"/><stop offset="0.8050" stop-color="#3f23ff"/><stop offset="0.9950" stop-color="#4628fd"/><stop offset="1.0000" stop-color="#4628fd"/></linearGradient>
<linearGradient id="r36"><stop offset="0.0000" stop-color="#0000ff"/><stop offset="0.0050" stop-color="#0000ff"/><stop offset="0.2150" stop-color="#1c0bff"/><stop offset="0.8750" stop-color="#3e22ff"/><stop offset="0.9950" stop-color="#4125ff"/><stop offset="1.0000" stop-color="#4125ff"/></linearGradient>
<linearGradient id="r37"><stop offset="0.0000" stop-color="#0000ff"/><stop offset="0.0050" stop-color="#0000ff"/><stop offset="0.2050" stop-color="#1909ff"/><stop offset="0.8250" stop-color="#391dff"/><stop offset="0.9950" stop-color="#3e22ff"/><stop offset="1.0000" stop-color="#3e22ff"/></linearGradient>
<linearGradient id="r38"><stop offset="0.0000" stop-color="#0000ff"/><stop offset="0.0050" stop-color="#0000ff"/><stop offset="0.3150" stop-color="#1f0dff"/><stop offset="0.9950" stop-color="#3b1fff"/><stop offset="1.0000" stop-color="#3b1fff"/></linearGradient>
<linearGradient id="r39"><stop offset="0.0000" stop-color="#0000ff"/><stop offset="0.0050" stop-color="#0000ff"/><stop offset="0.2750" stop-color="#1a0aff"/><stop offset="0.9950" stop-color="#381cff"/><stop offset="1.0000" stop-color="#381cff"/></linearGradient>
<linearGradient id="r40"><stop offset="0.0000" stop-color="#0000ff"/><stop offset="0.0050" stop-color="#0000ff"/><stop offset="0.3050" stop-color="#1a0aff"/><stop offset="0.9950" stop-color="#341aff"/><stop offset="1.0000" stop-color="#341aff"/></linearGradient>
<linearGradient id="r41"><stop offset="0.0000" stop-color="#0000ff"/><stop offset="0.0050" stop-color="#0000ff"/><stop offset="0.3450" stop-color="#1a0aff"/><stop offset="0.9950" stop-color="#3018ff"/><stop offset="1.0000" stop-color="#3018ff"/></linearGradient>
<linearGradient id="r42"><stop offset="0.0000" stop-color="#0000ff"/><stop offset="0.0050" stop-color="#0000ff"/><stop offset="0.3950" stop-color="#1a0aff"/><stop offset="0.9950" stop-color="#2e16ff"/><stop offset="1.0000" stop-color="#2e16ff"/></linearGradient>
<linearGradient id="r43"><stop offset="0.0000" stop-color="#0000ff"/><stop offset="0.0050" stop-color="#0000ff"/><stop offset="0.4150" stop-color="#1909ff"/><stop offset="0.9950" stop-color="#2b14ff"/><stop offset="1.0000" stop-color="#2b14ff"/></linearGradient>
<linearGradient id="r44"><stop offset="0.0000" stop-color="#0000ff"/><stop offset="0.0050" stop-color="#0000ff"/><stop offset="0.4950" stop-color="#1a0aff"/><stop offset="0.9950" stop-color="#2913ff"/><stop offset="1.0000" stop-color="#2913ff"/></linearGradient>
<linearGradient id="r45"><stop offset="0.0000" stop-color="#0000ff"/><stop offset="0.0050" stop-color="#0000ff"/><stop offset="0.5550" stop-color="#1a0aff"/><stop offset="0.9950" stop-color="#2611ff"/><stop offset="1.0000" stop-color="#2611ff"/></linearGradient>
<linearGradient id="r46"><stop offset="0.0000" stop-color="#0000ff"/><stop offset="0.0050" stop-color="#0000ff"/><stop offset="0.6150" stop-color="#1a0aff"/><stop offset="0.9950" stop-color="#240fff"/><stop offset="1.0000" stop-color="#240fff"/></linearGradient>
<linearGradient id="r47"><stop offset="0.0000" stop-color="#0000ff"/><stop offset="0.0050" stop-color="#0000ff"/><stop offset="0.6650" stop-color="#1909ff"/><stop offset="0.9950" stop-color="#220eff"/><stop offset="1.0000" stop-color="#220eff"/></linearGradient>
<linearGradient id="r48"><stop offset="0.0000" stop-color="#0000ff"/><stop offset="0.0050" stop-color="#0000ff"/><stop offset="0.7850" stop-color="#1a0aff"/><stop offset="0.9950" stop-color="#1f0dff"/><stop offset="1.0000" stop-color="#1f0dff"/></linearGradient>
<linearGradient id="r49"><stop offset="0.0000" stop-color="#0000ff"/><stop offset="0.0050" stop-color="#0000ff"/><stop offset="0.8450" stop-color="#1909ff"/><stop offset="0.9950" stop-color="#1d0bff"/><stop offset="1.0000" stop-color="#1d0bff"/></linearGradient>
<linearGradient id="r50"><stop offset="0.0000" stop-color="#0000ff"/><stop offset="0.0050" stop-color="#0000ff"/><stop offset="0.9850" stop-color="#1a0aff"/><stop offset="1.0000" stop-color="#1a0aff"/></linearGradient>
<linearGradient id="r51"><stop offset="0.0000" stop-color="#0000ff"/><stop offset="0.0050" stop-color="#0000ff"/><stop offset="0.9950" stop-color="#1809ff"/><stop offset="1.0000" stop-color="#1809ff"/></linearGradient>
<linearGradient id="r52"><stop offset="0.0000" stop-color="#0000ff"/><stop offset="0.0050" stop-color="#0000ff"/><stop offset="0.9950" stop-color="#1708ff"/><stop offset="1.0000" stop-color="#1708ff"/></linearGradient>
<linearGradient id="r53"><stop offset="0.0000" stop-color="#0000ff"/><stop offset="0.0050" stop-color="#0000ff"/><stop offset="0.9950" stop-color="#1507ff"/><stop offset="1.0000" stop-color="#1507ff"/></linearGradient>
<linearGradient id="r54"><stop offset="0.0000" stop-color="#0000ff"/><stop offset="0.0050" stop-color="#0000ff"/><stop offset="0.9950" stop-color="#1307ff"/><stop offset="1.0000" stop-color="#1307ff"/></linearGradient>
<linearGradient id="r55"><stop offset="0.0000" stop-color="#0000ff"/><stop offset="0.0050" stop-color="#0000ff"/><stop offset="0.9950" stop-color="#1206ff"/><stop offset="1.0000" stop-color="#1206ff"/></linearGradient>
<linearGradient id="r56"><stop offset="0.0000" stop-color="#0000ff"/><stop offset="0.0050" stop-color="#0000ff"/><stop offset="0.9950" stop-color="#1105ff"/><stop offset="1.0000" stop-color="#1105ff"/></linearGradient>
<linearGradient id="r57"><stop offset="0.0000" stop-color="#0000ff"/><stop offset="0.0050" stop-color="#0000ff"/><stop offset="0.9950" stop-color="#0f05ff"/><stop offset="1.0000" stop-color="#0f05ff"/></linearGradient>
<linearGradient id="r58"><stop offset="0.0000" stop-color="#0000ff"/><stop offset="0.0050" stop-color="#0000ff"/><stop offset="0.9950" stop-color="#0e04ff"/><stop offset="1.0000" stop-color="#0e04ff"/></linearGradient>
<linearGradient id="r59"><stop offset="0.0000" stop-color="#0000ff"/><stop offset="0.0050" stop-color="#0000ff"/><stop offset="0.9950" stop-color="#0c04ff"/><stop offset="1.0000" stop-color="#0c04ff"/></linearGradient>
<linearGradient id="r60"><stop offset="0.0000" stop-color="#0000ff"/><stop offset="0.0050" stop-color="#0000ff"/><stop offset="0.9950" stop-color="#0c03ff"/><stop offset="1.0000" stop-color="#0c03ff"/></linearGradient>
<linearGradient id="r61"><stop offset="0.0000" stop-color="#0000ff"/><stop offset="0.0050" stop-color="#0000ff"/><stop offset="0.9950" stop-color="#0903ff"/><stop offset="1.0000" stop-color="#0903ff"/></linearGradient>
<linearGradient id="r62"><stop offset="0.0000" stop-color="#0000ff"/><stop offset="0.0050" stop-color="#0000ff"/><stop offset="0.9950" stop-color="#0903ff"/><stop offset="1.0000" stop-color="#0903ff"/></linearGradient>
<linearGradient id="r63"><stop offset="0.0000" stop-color="#0000ff"/><stop offset="0.0050" stop-color="#0000ff"/><stop offset="0.9950" stop-color="#0802ff"/><stop offset="1.0000" stop-color="#0802ff"/></linearGradient>
<linearGradient id="r64"><stop offset="0.0000" stop-color="#0000ff"/><stop offset="0.0050" stop-color="#0000ff"/><stop offset="0.9950" stop-color="#0702ff"/><stop offset="1.0000" stop-color="#0702ff"/></linearGradient>
<linearGradient id="r65"><stop offset="0.0000" stop-color="#0000ff"/><stop offset="0.0050" stop-color="#0000ff"/><stop offset="0.9950" stop-color="#0602ff"/><stop offset="1.0000" stop-color="#0602ff"/></linearGradient>
<linearGradient id="r66"><stop offset="0.0000" stop-color="#0000ff"/><stop offset="0.0050" stop-color="#0000ff"/><stop offset="0.9950" stop-color="#0602ff"/><stop offset="1.0000" stop-color="#0602ff"/></linearGradient>
<linearGradient id="r67"><stop offset="0.0000" stop-color="#0000ff"/><stop offset="0.0050" stop-color="#0000ff"/><stop offset="0.9950" stop-color="#0501ff"/><stop offset="1.0000" stop-color="#0501ff"/></linearGradient>
<linearGradient id="r68"><stop offset="0.0000" stop-color="#0000ff"/><stop offset="0.0050" stop-color="#0000ff"/><stop offset="0.9950" stop-color="#0501ff"/><stop offset="1.0000" stop-color="#0501ff"/></linearGradient>
<linearGradient id="r69"><stop offset="0.0000" stop-color="#0000ff"/><stop offset="0.0050" stop-color="#0000ff"/><stop offset="0.9950" stop-color="#0301ff"/><stop offset="1.0000" stop-color="#0301ff"/></linearGradient>
<linearGradient id="r70"><stop offset="0.0000" stop-color="#0000ff"/><stop offset="0.0050" stop-color="#0000ff"/><stop offset="0.9950" stop-color="#0301ff"/><stop offset="1.0000" stop-color="#0301ff"/></linearGradient>
<linearGradient id="r71"><stop offset="0.0000" stop-color="#0000ff"/><stop offset="0.0050" stop-color="#0000ff"/><stop offset="0.9950" stop-color="#0301ff"/><stop offset="1.0000" stop-color="#0301ff"/></linearGradient>
</defs>
<g shape-rendering="crispEdges">
<rect x="81.17" y="49.363" width="465.45" height="3.694" fill="url(#r0)"/>
<rect x="81.17" y="53.037" width="465.45" height="3.694" fill="url(#r1)"/>
<rect x="81.17" y="56.711" width="465.45" height="3.694" fill="url(#r2)"/>
<rect x="81.17" y="60.384" width="465.45" height="3.694" fill="url(#r3)"/>
<rect x="81.17" y="64.058" width="465.45" height="3.694" fill="url(#r4)"/>
<rect x="81.17" y="67.732" width="465.45" height="3.694" fill="url(#r5)"/>
<rect x="81.17" y="71.406" width="465.45" height="3.694" fill="url(#r6)"/>
<rect x="81.17" y="75.079" width="465.45" height="3.694" fill="url(#r7)"/>
<rect x="81.17" y="78.753" width="465.45" height="3.694" fill="url(#r8)"/>
<rect x="81.17" y="82.427" width="465.45" height="3.694" fill="url(#r9)"/>
<rect x="81.17" y="86.101" width="465.45" height="3.694" fill="url(#r10)"/>
<rect x="81.17" y="89.774" width="465.45" height="3.694" fill="url(#r11)"/>
<rect x="81.17" y="93.448" width="465.45" height="3.694" fill="url(#r12)"/>
<rect x="81.17" y="97.122" width="465.45" height="3.694" fill="url(#r13)"/>
<rect x="81.17" y="100.795" width="465.45" height="3.694" fill="url(#r14)"/>
<rect x="81.17" y="104.469" width="465.45" height="3.694" fill="url(#r15)"/>
<rect x="81.17" y="108.143" width="465.45" height="3.694" fill="url(#r16)"/>
<rect x="81.17" y="111.817" width="465.45" height="3.694" fill="url(#r17)"/>
<rect x="81.17" y="115.490" width="465.45" height="3.694" fill="url(#r18)"/>
<rect x="81.17" y="119.164" width="465.45" height="3.694" fill="url(#r19)"/>
<rect x="81.17" y="122.838" width="465.45" height="3.694" fill="url(#r20)"/>
<rect x="81.17" y="126.512" width="465.45" height="3.694" fill="url(#r21)"/>
<rect x="81.17" y="130.185" width="465.45" height="3.694" fill="url(#r22)"/>
<rect x="81.17" y="133.859" width="465.45" height="3.694" fill="url(#r23)"/>
<rect x="81.17" y="137.533" width="465.45" height="3.694" fill="url(#r24)"/>
<rect x="81.17" y="141.207" width="465.45" height="3.694" fill="url(#r25)"/>
<rect x="81.17" y="144.880" width="465.45" height="3.694" fill="url(#r26)"/>
<rect x="81.17" y="148.554" width="465.45" height="3.694" fill="url(#r27)"/>
<rect x="81.17" y="152.228" width="465.45" height="3.694" fill="url(#r28)"/>
<rect x="81.17" y="155.902" width="465.45" height="3.694" fill="url(#r29)"/>
<rect x="81.17" y="159.575" width="465.45" height="3.694" fill="url(#r30)"/>
<rect x="81.17" y="163.249" width="465.45" height="3.694" fill="url(#r31)"/>
<rect x="81.17" y="166.923" width="465.45" height="3.694" fill="url(#r32)"/>
<rect x="81.17" y="170.596" width="465.45" height="3.694" fill="url(#r33)"/>
<rect x="81.17" y="174.270" width="465.45" height="3.694" fill="url(#r34)"/>
<rect x="81.17" y="177.944" width="465.45" height="3.694" fill="url(#r35)"/>
<rect x="81.17" y="181.618" width="465.45" height="3.694" fill="url(#r36)"/>
<rect x="81.17" y="185.291" width="465.45" height="3.694" fill="url(#r37)"/>
<rect x="81.17" y="188.965" width="465.45" height="3.694" fill="url(#r38)"/>
<rect x="81.17" y="192.639" width="465.45" height="3.694" fill="url(#r39)"/>
<rect x="81.17" y="196.313" width="465.45" height="3.694" fill="url(#r40)"/>
<rect x="81.17" y="199.986" width="465.45" height="3.694" fill="url(#r41)"/>
<rect x="81.17" y="203.660" width="465.45" height="3.694" fill="url(#r42)"/>
<rect x="81.17" y="207.334" width="465.45" height="3.694" fill="url(#r43)"/>
<rect x="81.17" y="211.008" width="465.45" height="3.694" fill="url(#r44)"/>
<rect x="81.17" y="214.681" width="465.45" height="3.694" fill="url(#r45)"/>
<rect x="81.17" y="218.355" width="465.45" height="3.694" fill="url(#r46)"/>
<rect x="81.17" y="222.029" width="465.45" height="3.694" fill="url(#r47)"/>
<rect x="81.17" y="225.703" width="465.45" height="3.694" fill="url(#r48)"/>
<rect x="81.17" y="229.376" width="465.45" height="3.694" fill="url(#r49)"/>
<rect x="81.17" y="233.050" width="465.45" height="3.694" fill="url(#r50)"/>
<rect x="81.17" y="236.724" width="465.45" height="3.694" fill="url(#r51)"/>
<rect x="81.17" y="240.397" width="465.45" height="3.694" fill="url(#r52)"/>
<rect x="81.17" y="244.071" width="465.45" height="3.694" fill="url(#r53)"/>
<rect x="81.17" y="247.745" width="465.45" height="3.694" fill="url(#r54)"/>
<rect x="81.17" y="251.419" width="465.45" height="3.694" fill="url(#r55)"/>
<rect x="81.17" y="255.092" width="465.45" height="3.694" fill="url(#r56)"/>
<rect x="81.17" y="258.766" width="465.45" height="3.694" fill="url(#r57)"/>
<rect x="81.17" y="262.440" width="465.45" height="3.694" fill="url(#r58)"/>
<rect x="81.17" y="266.114" width="465.45" height="3.694" fill="url(#r59)"/>
<rect x="81.17" y="269.787" width="465.45" height="3.694" fill="url(#r60)"/>
<rect x="81.17" y="273.461" width="465.45" height="3.694" fill="url(#r61)"/>
<rect x="81.17" y="277.135" width="465.45" height="3.694" fill="url(#r62)"/>
<rect x="81.17" y="280.809" width="465.45" height="3.694" fill="url(#r63)"/>
<rect x="81.17" y="284.482" width="465.45" height="3.694" fill="url(#r64)"/>
<rect x="81.17" y="288.156" width="465.45" height="3.694" fill="url(#r65)"/>
<rect x="81.17" y="291.830" width="465.45" height="3.694" fill="url(#r66)"/>
<rect x="81.17" y="295.504" width="465.45" height="3.694" fill="url(#r67)"/>
<rect x="81.17" y="299.177" width="465.45" height="3.694" fill="url(#r68)"/>
<rect x="81.17" y="302.851" width="465.45" height="3.694" fill="url(#r69)"/>
<rect x="81.17" y="306.525" width="465.45" height="3.694" fill="url(#r70)"/>
<rect x="81.17" y="310.198" width="465.45" height="3.694" fill="url(#r71)"/>
<rect x="81.17" y="313.872" width="465.45" height="3.694" fill="#0000ff"/>
<rect x="81.17" y="317.546" width="465.45" height="3.694" fill="#0000ff"/>
<rect x="81.17" y="321.220" width="465.45" height="3.694" fill="#0000ff"/>
<rect x="81.17" y="324.893" width="465.45" height="3.694" fill="#0000ff"/>
<rect x="81.17" y="328.567" width="465.45" height="3.694" fill="#0000ff"/>
<rect x="81.17" y="332.241" width="465.45" height="3.694" fill="#0000ff"/>
<rect x="81.17" y="335.915" width="465.45" height="3.694" fill="#0000ff"/>
<rect x="81.17" y="339.588" width="465.45" height="3.694" fill="#0000ff"/>
<rect x="81.17" y="343.262" width="465.45" height="3.694" fill="#0000ff"/>
<rect x="81.17" y="346.936" width="465.45" height="3.694" fill="#0000ff"/>
<rect x="81.17" y="350.610" width="465.45" height="3.694" fill="#0000ff"/>
<rect x="81.17" y="354.283" width="465.45" height="3.694" fill="#0000ff"/>
<rect x="81.17" y="357.957" width="465.45" height="3.694" fill="#0000ff"/>
<rect x="81.17" y="361.631" width="465.45" height="3.694" fill="#0000ff"/>
<rect x="81.17" y="365.305" width="465.45" height="3.694" fill="#0000ff"/>
<rect x="81.17" y="368.978" width="465.45" height="3.694" fill="#0000ff"/>
<rect x="81.17" y="372.652" width="465.45" height="3.694" fill="#0000ff"/>
<rect x="81.17" y="376.326" width="465.45" height="3.694" fill="#0000ff"/>
<rect x="81.17" y="379.999" width="465.45" height="3.694" fill="#0000ff"/>
<rect x="81.17" y="383.673" width="465.45" height="3.694" fill="#0000ff"/>
<rect x="81.17" y="387.347" width="465.45" height="3.694" fill="#0000ff"/>
<rect x="81.17" y="391.021" width="465.45" height="3.694" fill="#0000ff"/>
<rect x="81.17" y="394.694" width="465.45" height="3.694" fill="#0000ff"/>
<rect x="81.17" y="398.368" width="465.45" height="3.694" fill="#0000ff"/>
<rect x="81.17" y="402.042" width="465.45" height="3.694" fill="#0000ff"/>
<rect x="81.17" y="405.716" width="465.45" height="3.694" fill="#0000ff"/>
<rect x="81.17" y="409.389" width="465.45" height="3.694" fill="#0000ff"/>
<rect x="81.17" y="413.063" width="465.45" height="3.694" fill="#0000ff"/>
</g>
<path d="M85.83 49.36V416.74M90.48 49.36V416.74M95.14 49.36V416.74M99.79 49.36V416.74M104.45 49.36V416.74M109.10 49.36V416.74M113.75 49.36V416.74M118.41 49.36V416.74M123.06 49.36V416.74M127.72 49.36V416.74M132.37 49.36V416.74M137.03 49.36V416.74M141.68 49.36V416.74M146.34 49.36V416.74M150.99 49.36V416.74M155.64 49.36V416.74M160.30 49.36V416.74M164.95 49.36V416.74M169.61 49.36V416.74M174.26 49.36V416.74M178.92 49.36V416.74M183.57 49.36V416.74M188.23 49.36V416.74M192.88 49.36V416.74M197.54 49.36V416.74M202.19 49.36V416.74M206.84 49.36V416.74M211.50 49.36V416.74M216.15 49.36V416.74M220.81 49.36V416.74M225.46 49.36V416.74M230.12 49.36V416.74M234.77 49.36V416.74M239.43 49.36V416.74M244.08 49.36V416.74M248.74 49.36V416.74M253.39 49.36V416.74M258.04 49.36V416.74M262.70 49.36V416.74M267.35 49.36V416.74M272.01 49.36V416.74M276.66 49.36V416.74M281.32 49.36V416.74M285.97 49.36V416.74M290.63 49.36V416.74M295.28 49.36V416.74M299.93 49.36V416.74M304.59 49.36V416.74M309.24 49.36V416.74M313.90 49.36V416.74M318.55 49.36V416.74M323.21 49.36V416.74M327.86 49.36V416.74M332.52 49.36V416.74M337.17 49.36V416.74M341.83 49.36V416.74M346.48 49.36V416.74M351.13 49.36V416.74M355.79 49.36V416.74M360.44 49.36V416.74M365.10 49.36V416.74M369.75 49.36V416.74M374.41 49.36V416.74M379.06 49.36V416.74M383.72 49.36V416.74M388.37 49.36V416.74M393.03 49.36V416.74M397.68 49.36V416.74M402.33 49.36V416.74M406.99 49.36V416.74M411.64 49.36V416.74M416.30 49.36V416.74M420.95 49.36V416.74M425.61 49.36V416.74M430.26 49.36V416.74M434.92 49.36V416.74M439.57 49.36V416.74M444.22 49.36V416.74M448.88 49.36V416.74M453.53 49.36V416.74M458.19 49.36V416.74M462.84 49.36V416.74M467.50 49.36V416.74M472.15 49.36V416.74M476.81 49.36V416.74M481.46 49.36V416.74M486.12 49.36V416.74M490.77 49.36V416.74M495.42 49.36V416.74M500.08 49.36V416.74M504.73 49.36V416.74M509.39 49.36V416.74M514.04 49.36V416.74M518.70 49.36V416.74M523.35 49.36V416.74M528.01 49.36V416.74M532.66 49.36V416.74M537.32 49.36V416.74M541.97 49.36V416.74M81.17 53.04H546.62M81.17 56.71H546.62M81.17 60.38H546.62M81.17 64.06H546.62M81.17 67.73H546.62M81.17 71.41H546.62M81.17 75.08H546.62M81.17 78.75H546.62M81.17 82.43H546.62M81.17 86.10H546.62M81.17 89.77H546.62M81.17 93.45H546.62M81.17 97.12H546.62M81.17 100.80H546.62M81.17 104.47H546.62M81.17 108.14H546.62M81.17 111.82H546.62M81.17 115.49H546.62M81.17 119.16H546.62M81.17 122.84H546.62M81.17 126.51H546.62M81.17 130.19H546.62M81.17 133.86H546.62M81.17 137.53H546.62M81.17 141.21H546.62M81.17 144.88H546.62M81.17 148.55H546.62M81.17 152.23H546.62M81.17 155.90H546.62M81.17 159.58H546.62M81.17 163.25H546.62M81.17 166.92H546.62M81.17 170.60H546.62M81.17 174.27H546.62M81.17 177.94H546.62M81.17 181.62H546.62M81.17 185.29H546.62M81.17 188.97H546.62M81.17 192.64H546.62M81.17 196.31H546.62M81.17 199.99H546.62M81.17 203.66H546.62M81.17 207.33H546.62M81.17 211.01H546.62M81.17 214.68H546.62M81.17 218.36H546.62M81.17 222.03H546.62M81.17 225.70H546.62M81.17 229.38H546.62M81.17 233.05H546.62M81.17 236.72H546.62M81.17 240.40H546.62M81.17 244.07H546.62M81.17 247.74H546.62M81.17 251.42H546.62M81.17 255.09H546.62M81.17 258.77H546.62M81.17 262.44H546.62M81.17 266.11H546.62M81.17 269.79H546.62M81.17 273.46H546.62M81.17 277.13H546.62M81.17 280.81H546.62M81.17 284.48H546.62M81.17 288.16H546.62M81.17 291.83H546.62M81.17 295.50H546.62M81.17 299.18H546.62M81.17 302.85H546.62M81.17 306.52H546.62M81.17 310.20H546.62M81.17 313.87H546.62M81.17 317.55H546.62M81.17 321.22H546.62M81.17 324.89H546.62M81.17 328.57H546.62M81.17 332.24H546.62M81.17 335.91H546.62M81.17 339.59H546.62M81.17 343.26H546.62M81.17 346.94H546.62M81.17 350.61H546.62M81.17 354.28H546.62M81.17 357.96H546.62M81.17 361.63H546.62M81.17 365.30H546.62M81.17 368.98H546.62M81.17 372.65H546.62M81.17 376.33H546.62M81.17 380.00H546.62M81.17 383.67H546.62M81.17 387.35H546.62M81.17 391.02H546.62M81.17 394.69H546.62M81.17 398.37H546.62M81.17 402.04H546.62M81.17 405.72H546.62M81.17 409.39H546.62M81.17 413.06H546.62" stroke="#fff" stroke-opacity="0.085" stroke-width="1" fill="none"/>
<polyline points="216.00,51.20 217.52,51.56 219.05,51.92 220.58,52.27 222.11,52.62 223.63,52.97 225.16,53.31 226.69,53.65 228.22,53.99 229.74,54.32 231.27,54.65 232.80,54.97 234.33,55.29 235.85,55.61 237.38,55.93 238.91,56.24 240.44,56.55 241.96,56.85 243.49,57.16 245.02,57.46 246.55,57.75 248.07,58.05 249.60,58.34 251.13,58.63 252.66,58.92 254.18,59.20 255.71,59.48 257.24,59.76 258.77,60.04 260.29,60.31 261.82,60.58 263.35,60.85 264.88,61.12 266.40,61.39 267.93,61.65 269.46,61.91 270.99,62.17 272.51,62.42 274.04,62.68 275.57,62.93 277.10,63.18 278.62,63.43 280.15,63.67 281.68,63.92 283.21,64.16 284.73,64.40 286.26,64.64 287.79,64.88 289.32,65.11 290.85,65.35 292.37,65.58 293.90,65.81 295.43,66.04 296.96,66.26 298.48,66.49 300.01,66.71 301.54,66.94 303.07,67.16 304.59,67.38 306.12,67.59 307.65,67.81 309.18,68.02 310.70,68.24 312.23,68.45 313.76,68.66 315.29,68.87 316.81,69.07 318.34,69.28 319.87,69.49 321.40,69.69 322.92,69.89 324.45,70.09 325.98,70.29 327.51,70.49 329.03,70.69 330.56,70.88 332.09,71.08 333.62,71.27 335.14,71.46 336.67,71.66 338.20,71.85 339.73,72.03 341.25,72.22 342.78,72.41 344.31,72.59 345.84,72.78 347.36,72.96 348.89,73.14 350.42,73.33 351.95,73.51 353.47,73.69 355.00,73.86 356.53,74.04 358.06,74.22 359.58,74.39 361.11,74.57 362.64,74.74 364.17,74.91 365.69,75.08 367.22,75.25 368.75,75.42 370.28,75.59 371.80,75.76 373.33,75.93 374.86,76.09 376.39,76.26 377.91,76.42 379.44,76.59 380.97,76.75 382.50,76.91 384.02,77.07 385.55,77.23 387.08,77.39 388.61,77.55 390.13,77.71 391.66,77.86 393.19,78.02 394.72,78.18 396.24,78.33 397.77,78.48 399.30,78.64 400.83,78.79 402.35,78.94 403.88,79.09 405.41,79.24 406.94,79.39 408.46,79.54 409.99,79.69 411.52,79.84 413.05,79.98 414.57,80.13 416.10,80.28 417.63,80.42 419.16,80.56 420.68,80.71 422.21,80.85 423.74,80.99 425.27,81.13 426.79,81.28 428.32,81.42 429.85,81.56 431.38,81.69 432.90,81.83 434.43,81.97 435.96,82.11 437.49,82.24 439.01,82.38 440.54,82.52 442.07,82.65 443.60,82.78 445.12,82.92 446.65,83.05 448.18,83.18 449.71,83.32 451.23,83.45 452.76,83.58 454.29,83.71 455.82,83.84 457.34,83.97 458.87,84.10 460.40,84.23 461.93,84.35 463.45,84.48 464.98,84.61 466.51,84.73 468.04,84.86 469.56,84.98 471.09,85.11 472.62,85.23 474.15,85.36 475.67,85.48 477.20,85.60 478.73,85.73 480.26,85.85 481.78,85.97 483.31,86.09 484.84,86.21 486.37,86.33 487.89,86.45 489.42,86.57 490.95,86.69 492.48,86.81 494.00,86.92 495.53,87.04 497.06,87.16 498.59,87.27 500.11,87.39 501.64,87.51 503.17,87.62 504.70,87.74 506.22,87.85 507.75,87.96 509.28,88.08 510.81,88.19 512.33,88.30 513.86,88.42 515.39,88.53 516.92,88.64 518.44,88.75 519.97,88.86 521.50,88.97" fill="none" stroke="#000" stroke-width="1.45" stroke-linejoin="round"/>
<polyline points="402.74,51.20 403.45,51.27 404.16,51.34 404.86,51.41 405.57,51.48 406.28,51.55 406.99,51.62 407.69,51.69 408.40,51.76 409.11,51.82 409.82,51.89 410.53,51.96 411.23,52.03 411.94,52.10 412.65,52.17 413.36,52.23 414.07,52.30 414.77,52.37 415.48,52.44 416.19,52.50 416.90,52.57 417.60,52.64 418.31,52.70 419.02,52.77 419.73,52.84 420.44,52.90 421.14,52.97 421.85,53.04 422.56,53.10 423.27,53.17 423.97,53.23 424.68,53.30 425.39,53.37 426.10,53.43 426.81,53.50 427.51,53.56 428.22,53.63 428.93,53.69 429.64,53.76 430.34,53.82 431.05,53.88 431.76,53.95 432.47,54.01 433.18,54.08 433.88,54.14 434.59,54.20 435.30,54.27 436.01,54.33 436.71,54.39 437.42,54.46 438.13,54.52 438.84,54.58 439.55,54.65 440.25,54.71 440.96,54.77 441.67,54.83 442.38,54.90 443.08,54.96 443.79,55.02 444.50,55.08 445.21,55.15 445.92,55.21 446.62,55.27 447.33,55.33 448.04,55.39 448.75,55.45 449.45,55.51 450.16,55.58 450.87,55.64 451.58,55.70 452.29,55.76 452.99,55.82 453.70,55.88 454.41,55.94 455.12,56.00 455.82,56.06 456.53,56.12 457.24,56.18 457.95,56.24 458.66,56.30 459.36,56.36 460.07,56.42 460.78,56.48 461.49,56.54 462.19,56.60 462.90,56.65 463.61,56.71 464.32,56.77 465.03,56.83 465.73,56.89 466.44,56.95 467.15,57.01 467.86,57.06 468.56,57.12 469.27,57.18 469.98,57.24 470.69,57.30 471.40,57.35 472.10,57.41 472.81,57.47 473.52,57.53 474.23,57.58 474.93,57.64 475.64,57.70 476.35,57.75 477.06,57.81 477.77,57.87 478.47,57.92 479.18,57.98 479.89,58.04 480.60,58.09 481.30,58.15 482.01,58.21 482.72,58.26 483.43,58.32 484.14,58.37 484.84,58.43 485.55,58.49 486.26,58.54 486.97,58.60 487.67,58.65 488.38,58.71 489.09,58.76 489.80,58.82 490.51,58.87 491.21,58.93 491.92,58.98 492.63,59.04 493.34,59.09 494.04,59.15 494.75,59.20 495.46,59.26 496.17,59.31 496.88,59.36 497.58,59.42 498.29,59.47 499.00,59.53 499.71,59.58 500.41,59.63 501.12,59.69 501.83,59.74 502.54,59.79 503.25,59.85 503.95,59.90 504.66,59.95 505.37,60.01 506.08,60.06 506.78,60.11 507.49,60.16 508.20,60.22 508.91,60.27 509.62,60.32 510.32,60.37 511.03,60.43 511.74,60.48 512.45,60.53 513.15,60.58 513.86,60.64 514.57,60.69 515.28,60.74 515.99,60.79 516.69,60.84 517.40,60.89 518.11,60.95 518.82,61.00 519.52,61.05 520.23,61.10 520.94,61.15 521.65,61.20 522.36,61.25 523.06,61.30 523.77,61.35 524.48,61.41 525.19,61.46 525.89,61.51 526.60,61.56 527.31,61.61 528.02,61.66 528.73,61.71 529.43,61.76 530.14,61.81 530.85,61.86 531.56,61.91 532.26,61.96 532.97,62.01 533.68,62.06 534.39,62.11 535.10,62.16 535.80,62.21 536.51,62.26 537.22,62.31 537.93,62.35 538.63,62.40 539.34,62.45 540.05,62.50 540.76,62.55 541.47,62.60 542.17,62.65 542.88,62.70 543.59,62.75 544.30,62.79" fill="none" stroke="#000" stroke-width="1.45" stroke-linejoin="round"/>
<defs><filter id="halo" x="-20%" y="-30%" width="140%" height="160%"><feMorphology in="SourceAlpha" operator="dilate" radius="1.4" result="d"/><feFlood flood-color="#fff"/><feComposite in2="d" operator="in" result="w"/><feMerge><feMergeNode in="w"/><feMergeNode in="SourceGraphic"/></feMerge></filter></defs>
<text class="b" filter="url(#halo)" x="534.6" y="94.7" font-size="12.4" text-anchor="middle" fill="#000">0.25</text>
<defs><linearGradient id="lg" x1="0" x2="0" y1="0" y2="1"><stop offset="0.0000" stop-color="#ff3000"/><stop offset="0.1136" stop-color="#ff6400"/><stop offset="0.2273" stop-color="#ff9800"/><stop offset="0.3409" stop-color="#ffcc00"/><stop offset="0.4545" stop-color="#ffff00"/><stop offset="0.5165" stop-color="#e0ff00"/><stop offset="0.5579" stop-color="#d0f800"/><stop offset="0.6167" stop-color="#a0f400"/><stop offset="0.6570" stop-color="#40f000"/><stop offset="0.6715" stop-color="#00f000"/><stop offset="0.7645" stop-color="#00f000"/><stop offset="0.7851" stop-color="#00d060"/><stop offset="0.8110" stop-color="#10c080"/><stop offset="0.8368" stop-color="#50a8a0"/><stop offset="0.8843" stop-color="#7898a8"/><stop offset="0.9143" stop-color="#8080c8"/><stop offset="0.9535" stop-color="#7868d8"/><stop offset="1.0000" stop-color="#6848e0"/></linearGradient></defs>
<rect x="447.90" y="246.00" width="20.00" height="96.80" fill="url(#lg)"/>
<text class="b" x="476.4" y="250.50" font-size="10.9" fill="#000">1.00</text>
<text class="b" x="476.4" y="272.10" font-size="10.9" fill="#000">0.75</text>
<text class="b" x="476.4" y="294.70" font-size="10.9" fill="#000">0.50</text>
<text class="b" x="476.4" y="319.40" font-size="10.9" fill="#000">0.25</text>
<text class="b" x="476.4" y="343.50" font-size="10.9" fill="#000">0.00</text>
<text class="c" x="448.1" y="204.1" font-size="13.6" fill="#000">Plating</text>
<text class="c" x="448.1" y="222.5" font-size="13.6" fill="#000">Fraction</text>
<text class="g" x="52.4" y="55.50" font-size="11.2" text-anchor="end" fill="#4d4d4d">1e+00</text>
<text class="g" x="52.4" y="200.98" font-size="11.2" text-anchor="end" fill="#4d4d4d">1e&#8722;02</text>
<text class="g" x="52.4" y="346.46" font-size="11.2" text-anchor="end" fill="#4d4d4d">1e&#8722;04</text>
<text class="g" x="83.70" y="448.0" font-size="11.3" text-anchor="middle" fill="#4d4d4d">0</text>
<text class="g" x="221.87" y="448.0" font-size="11.3" text-anchor="middle" fill="#4d4d4d">1000</text>
<text class="g" x="360.04" y="448.0" font-size="11.3" text-anchor="middle" fill="#4d4d4d">2000</text>
<text class="g" x="498.21" y="448.0" font-size="11.3" text-anchor="middle" fill="#4d4d4d">3000</text>
<text class="b" x="140.8" y="16.6" font-size="16" fill="#000">Li Plating Fraction vs. Time and Plating Rate</text>
<text class="b" x="114.6" y="36.4" font-size="13.65" fill="#000">Contours at 25%, 50%, 75% with Safe Zone Highlighted (&lt;30%)</text>
<text class="b" x="314.3" y="464.3" font-size="13.6" text-anchor="middle" fill="#000">Time (min)</text>
<text class="b" transform="translate(12.9,232.5) rotate(-90)" x="0" y="0" font-size="13.6" text-anchor="middle" fill="#000">Plating Rate (mol/s)</text>
</svg>
</body></html>
